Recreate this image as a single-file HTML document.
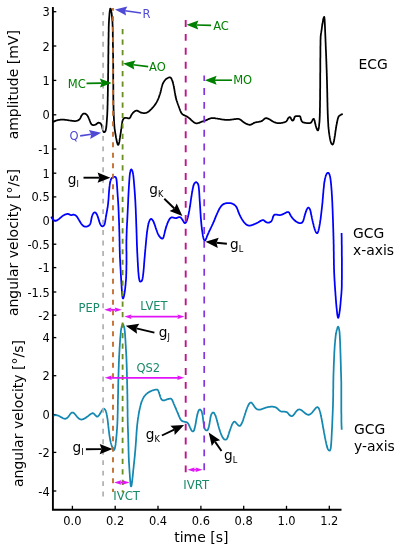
<!DOCTYPE html>
<html><head><meta charset="utf-8"><title>ECG and GCG signals</title>
<style>
html,body{margin:0;padding:0;background:#fff;}
svg{display:block;font-family:"DejaVu Sans","Liberation Sans",sans-serif;}
</style></head><body>
<svg width="401" height="550" viewBox="0 0 401 550">
<rect width="401" height="550" fill="#fff"/>
<path d="M52.9,6.9 V509.7 H341.5" fill="none" stroke="#000" stroke-width="1.9"/>
<line x1="52.9" y1="11.7" x2="56.3" y2="11.7" stroke="#000" stroke-width="1.3"/><text x="49.7" y="16.2" fill="#000" font-size="11.4" text-anchor="end" >3</text>
<line x1="52.9" y1="46" x2="56.3" y2="46" stroke="#000" stroke-width="1.3"/><text x="49.7" y="50.5" fill="#000" font-size="11.4" text-anchor="end" >2</text>
<line x1="52.9" y1="80.4" x2="56.3" y2="80.4" stroke="#000" stroke-width="1.3"/><text x="49.7" y="84.9" fill="#000" font-size="11.4" text-anchor="end" >1</text>
<line x1="52.9" y1="114.8" x2="56.3" y2="114.8" stroke="#000" stroke-width="1.3"/><text x="49.7" y="119.3" fill="#000" font-size="11.4" text-anchor="end" >0</text>
<line x1="52.9" y1="149" x2="56.3" y2="149" stroke="#000" stroke-width="1.3"/><text x="49.7" y="153.5" fill="#000" font-size="11.4" text-anchor="end" >-1</text>
<line x1="52.9" y1="173.2" x2="56.3" y2="173.2" stroke="#000" stroke-width="1.3"/><text x="49.7" y="177.7" fill="#000" font-size="11.4" text-anchor="end" >1</text>
<line x1="52.9" y1="196.9" x2="56.3" y2="196.9" stroke="#000" stroke-width="1.3"/><text x="49.7" y="201.4" fill="#000" font-size="11.4" text-anchor="end" >0.5</text>
<line x1="52.9" y1="220.5" x2="56.3" y2="220.5" stroke="#000" stroke-width="1.3"/><text x="49.7" y="225.0" fill="#000" font-size="11.4" text-anchor="end" >0</text>
<line x1="52.9" y1="244.2" x2="56.3" y2="244.2" stroke="#000" stroke-width="1.3"/><text x="49.7" y="248.7" fill="#000" font-size="11.4" text-anchor="end" >-0.5</text>
<line x1="52.9" y1="267.6" x2="56.3" y2="267.6" stroke="#000" stroke-width="1.3"/><text x="49.7" y="272.1" fill="#000" font-size="11.4" text-anchor="end" >-1</text>
<line x1="52.9" y1="292" x2="56.3" y2="292" stroke="#000" stroke-width="1.3"/><text x="49.7" y="296.5" fill="#000" font-size="11.4" text-anchor="end" >-1.5</text>
<line x1="52.9" y1="315.2" x2="56.3" y2="315.2" stroke="#000" stroke-width="1.3"/><text x="49.7" y="319.7" fill="#000" font-size="11.4" text-anchor="end" >-2</text>
<line x1="52.9" y1="337.6" x2="56.3" y2="337.6" stroke="#000" stroke-width="1.3"/><text x="49.7" y="342.1" fill="#000" font-size="11.4" text-anchor="end" >4</text>
<line x1="52.9" y1="375.7" x2="56.3" y2="375.7" stroke="#000" stroke-width="1.3"/><text x="49.7" y="380.2" fill="#000" font-size="11.4" text-anchor="end" >2</text>
<line x1="52.9" y1="414.6" x2="56.3" y2="414.6" stroke="#000" stroke-width="1.3"/><text x="49.7" y="419.1" fill="#000" font-size="11.4" text-anchor="end" >0</text>
<line x1="52.9" y1="452.4" x2="56.3" y2="452.4" stroke="#000" stroke-width="1.3"/><text x="49.7" y="456.9" fill="#000" font-size="11.4" text-anchor="end" >-2</text>
<line x1="52.9" y1="491.0" x2="56.3" y2="491.0" stroke="#000" stroke-width="1.3"/><text x="49.7" y="495.5" fill="#000" font-size="11.4" text-anchor="end" >-4</text>
<line x1="72.4" y1="509.5" x2="72.4" y2="505.8" stroke="#000" stroke-width="1.3"/><text x="72.4" y="525.3" fill="#000" font-size="11.45" text-anchor="middle" >0.0</text>
<line x1="115.2" y1="509.5" x2="115.2" y2="505.8" stroke="#000" stroke-width="1.3"/><text x="115.2" y="525.3" fill="#000" font-size="11.45" text-anchor="middle" >0.2</text>
<line x1="158.0" y1="509.5" x2="158.0" y2="505.8" stroke="#000" stroke-width="1.3"/><text x="158.0" y="525.3" fill="#000" font-size="11.45" text-anchor="middle" >0.4</text>
<line x1="200.9" y1="509.5" x2="200.9" y2="505.8" stroke="#000" stroke-width="1.3"/><text x="200.9" y="525.3" fill="#000" font-size="11.45" text-anchor="middle" >0.6</text>
<line x1="243.7" y1="509.5" x2="243.7" y2="505.8" stroke="#000" stroke-width="1.3"/><text x="243.7" y="525.3" fill="#000" font-size="11.45" text-anchor="middle" >0.8</text>
<line x1="286.5" y1="509.5" x2="286.5" y2="505.8" stroke="#000" stroke-width="1.3"/><text x="286.5" y="525.3" fill="#000" font-size="11.45" text-anchor="middle" >1.0</text>
<line x1="329.3" y1="509.5" x2="329.3" y2="505.8" stroke="#000" stroke-width="1.3"/><text x="329.3" y="525.3" fill="#000" font-size="11.45" text-anchor="middle" >1.2</text>
<path d="M53.1,121.9 L53.4,121.7 L53.8,121.6 L54.2,121.4 L54.5,121.2 L54.9,121.1 L55.3,120.9 L55.7,120.7 L56.1,120.6 L56.6,120.5 L57.0,120.3 L57.4,120.2 L57.9,120.1 L58.4,120.0 L58.9,119.9 L59.4,119.9 L59.9,119.8 L60.4,119.7 L61.0,119.7 L61.5,119.7 L62.1,119.7 L62.6,119.7 L63.2,119.7 L63.8,119.7 L64.3,119.7 L64.9,119.8 L65.5,119.9 L66.1,119.9 L66.7,120.0 L67.3,120.1 L68.0,120.2 L68.7,120.3 L69.3,120.4 L70.0,120.5 L70.6,120.6 L71.3,120.7 L71.9,120.8 L72.6,120.8 L73.2,120.9 L73.7,121.0 L74.3,121.0 L74.8,121.0 L75.3,121.0 L75.7,121.0 L76.2,120.9 L76.6,120.8 L77.1,120.7 L77.5,120.6 L77.9,120.5 L78.2,120.3 L78.6,120.1 L78.9,119.8 L79.2,119.6 L79.5,119.3 L79.8,118.9 L80.0,118.6 L80.3,118.2 L80.5,117.8 L80.7,117.4 L80.9,117.0 L81.1,116.5 L81.3,116.1 L81.5,115.8 L81.7,115.4 L82.0,115.0 L82.2,114.7 L82.5,114.4 L82.7,114.2 L82.9,114.0 L83.2,113.8 L83.5,113.7 L83.7,113.6 L84.0,113.5 L84.3,113.5 L84.6,113.5 L84.9,113.6 L85.3,113.7 L85.6,113.9 L85.9,114.1 L86.2,114.3 L86.6,114.5 L86.8,114.8 L87.1,115.1 L87.3,115.5 L87.6,115.8 L87.8,116.2 L88.0,116.6 L88.2,117.0 L88.4,117.4 L88.6,117.9 L88.8,118.3 L89.0,118.8 L89.2,119.2 L89.4,119.7 L89.5,120.1 L89.7,120.6 L89.9,121.0 L90.1,121.5 L90.2,121.9 L90.4,122.3 L90.5,122.7 L90.7,123.1 L90.9,123.4 L91.1,123.7 L91.3,124.0 L91.5,124.3 L91.7,124.5 L91.9,124.7 L92.1,124.8 L92.4,124.9 L92.6,125.0 L92.9,125.1 L93.2,125.1 L93.5,125.1 L93.8,125.1 L94.2,125.0 L94.6,124.9 L94.9,124.8 L95.3,124.7 L95.7,124.5 L96.0,124.4 L96.3,124.2 L96.6,124.0 L96.8,123.8 L97.0,123.6 L97.2,123.4 L97.4,123.2 L97.7,123.0 L97.9,122.9 L98.1,122.8 L98.4,122.7 L98.7,122.7 L99.0,122.8 L99.3,122.8 L99.6,122.9 L99.9,123.0 L100.2,123.1 L100.4,123.3 L100.6,123.4 L100.7,123.6 L100.9,123.7 L101.0,123.9 L101.2,124.2 L101.3,124.4 L101.4,124.7 L101.5,125.0 L101.7,125.4 L101.8,125.7 L101.9,126.1 L102.0,126.6 L102.1,127.0 L102.2,127.4 L102.3,127.9 L102.4,128.4 L102.5,128.8 L102.6,129.3 L102.8,129.8 L102.9,130.2 L103.1,130.7 L103.2,131.1 L103.4,131.4 L103.5,131.7 L103.7,132.0 L103.9,132.1 L104.0,132.2 L104.2,132.2 L104.5,132.1 L104.7,132.0 L104.9,131.7 L105.2,131.5 L105.4,131.1 L105.6,130.7 L105.7,130.3 L105.8,129.8 L105.9,129.3 L106.0,128.8 L106.1,128.2 L106.2,127.6 L106.3,127.0 L106.4,126.3 L106.4,125.7 L106.5,125.0 L106.6,124.3 L106.6,123.7 L106.7,123.0 L106.7,122.3 L106.8,121.6 L106.8,121.0 L106.9,120.3 L106.9,119.7 L107.0,119.0 L107.0,118.4 L107.0,117.8 L107.1,117.2 L107.1,116.6 L107.2,116.0 L107.2,115.4 L107.2,114.7 L107.3,114.1 L107.3,113.4 L107.3,112.8 L107.3,112.1 L107.4,111.3 L107.4,110.6 L107.4,109.8 L107.5,108.9 L107.5,108.1 L107.5,107.1 L107.5,106.2 L107.6,105.2 L107.6,104.1 L107.6,103.0 L107.6,101.9 L107.7,100.8 L107.7,99.6 L107.7,98.4 L107.7,97.1 L107.8,95.9 L107.8,94.6 L107.8,93.3 L107.8,92.0 L107.9,90.7 L107.9,89.4 L107.9,88.1 L107.9,86.7 L108.0,85.4 L108.0,84.1 L108.0,82.8 L108.0,81.5 L108.0,80.2 L108.1,78.9 L108.1,77.6 L108.1,76.4 L108.1,75.1 L108.1,73.9 L108.2,72.8 L108.2,71.6 L108.2,70.5 L108.2,69.4 L108.2,68.4 L108.2,67.4 L108.2,66.4 L108.2,65.5 L108.2,64.6 L108.3,63.7 L108.3,62.9 L108.3,62.0 L108.3,61.2 L108.3,60.4 L108.3,59.6 L108.3,58.8 L108.3,58.0 L108.3,57.2 L108.3,56.5 L108.3,55.7 L108.3,54.9 L108.4,54.1 L108.4,53.2 L108.4,52.4 L108.4,51.6 L108.4,50.7 L108.4,49.8 L108.4,48.9 L108.4,47.9 L108.4,46.9 L108.4,45.9 L108.5,44.9 L108.5,43.9 L108.5,42.9 L108.5,41.8 L108.5,40.8 L108.5,39.7 L108.5,38.7 L108.6,37.6 L108.6,36.6 L108.6,35.5 L108.6,34.5 L108.6,33.5 L108.6,32.5 L108.7,31.5 L108.7,30.5 L108.7,29.6 L108.7,28.7 L108.7,27.8 L108.7,26.9 L108.8,26.1 L108.8,25.3 L108.8,24.5 L108.8,23.8 L108.9,23.1 L108.9,22.5 L108.9,21.9 L109.0,21.2 L109.0,20.6 L109.0,20.1 L109.1,19.5 L109.1,18.9 L109.1,18.4 L109.2,17.8 L109.2,17.2 L109.3,16.6 L109.3,16.0 L109.4,15.4 L109.4,14.7 L109.5,14.1 L109.5,13.4 L109.6,12.7 L109.7,12.1 L109.7,11.4 L109.8,10.8 L109.9,10.3 L110.0,9.8 L110.1,9.3 L110.2,9.0 L110.2,8.7 L110.3,8.5 L110.4,8.5 L110.5,8.6 L110.6,8.7 L110.7,9.0 L110.9,9.4 L111.0,9.8 L111.1,10.3 L111.2,10.8 L111.3,11.4 L111.4,11.9 L111.5,12.5 L111.6,13.1 L111.7,13.7 L111.7,14.2 L111.8,14.8 L111.9,15.3 L111.9,15.8 L112.0,16.4 L112.0,16.9 L112.1,17.4 L112.1,17.9 L112.2,18.4 L112.2,18.8 L112.2,19.3 L112.3,19.8 L112.3,20.3 L112.4,20.8 L112.4,21.2 L112.4,21.7 L112.5,22.2 L112.5,22.7 L112.5,23.2 L112.5,23.8 L112.6,24.3 L112.6,24.9 L112.6,25.5 L112.6,26.1 L112.7,26.7 L112.7,27.4 L112.7,28.1 L112.7,28.8 L112.7,29.6 L112.8,30.3 L112.8,31.2 L112.8,32.0 L112.8,32.9 L112.8,33.8 L112.8,34.7 L112.8,35.6 L112.8,36.5 L112.9,37.5 L112.9,38.4 L112.9,39.4 L112.9,40.4 L112.9,41.4 L112.9,42.4 L112.9,43.3 L112.9,44.3 L112.9,45.3 L113.0,46.3 L113.0,47.2 L113.0,48.2 L113.0,49.1 L113.0,50.0 L113.0,50.9 L113.0,51.8 L113.0,52.7 L113.0,53.6 L113.1,54.4 L113.1,55.3 L113.1,56.1 L113.1,57.0 L113.1,57.8 L113.1,58.6 L113.1,59.4 L113.1,60.2 L113.1,61.1 L113.1,61.9 L113.1,62.7 L113.2,63.5 L113.2,64.4 L113.2,65.2 L113.2,66.1 L113.2,67.0 L113.2,67.8 L113.2,68.7 L113.2,69.6 L113.2,70.6 L113.2,71.5 L113.2,72.5 L113.2,73.4 L113.2,74.4 L113.2,75.4 L113.2,76.4 L113.2,77.4 L113.2,78.4 L113.2,79.4 L113.2,80.4 L113.2,81.4 L113.2,82.5 L113.3,83.5 L113.3,84.5 L113.3,85.5 L113.3,86.6 L113.3,87.6 L113.3,88.6 L113.3,89.6 L113.3,90.6 L113.3,91.6 L113.3,92.6 L113.3,93.6 L113.3,94.6 L113.3,95.5 L113.3,96.5 L113.3,97.4 L113.3,98.4 L113.3,99.3 L113.4,100.2 L113.4,101.1 L113.4,102.0 L113.4,102.8 L113.4,103.7 L113.4,104.6 L113.5,105.4 L113.5,106.2 L113.5,107.1 L113.5,107.9 L113.5,108.7 L113.6,109.5 L113.6,110.3 L113.6,111.0 L113.6,111.8 L113.7,112.6 L113.7,113.3 L113.7,114.1 L113.7,114.8 L113.8,115.5 L113.8,116.2 L113.8,116.9 L113.9,117.6 L113.9,118.3 L113.9,119.0 L114.0,119.7 L114.0,120.4 L114.0,121.1 L114.1,121.7 L114.1,122.4 L114.2,123.1 L114.2,123.8 L114.3,124.4 L114.3,125.1 L114.4,125.8 L114.4,126.4 L114.5,127.1 L114.5,127.8 L114.6,128.5 L114.7,129.2 L114.8,129.8 L114.9,130.5 L115.0,131.2 L115.1,131.9 L115.2,132.6 L115.3,133.3 L115.4,134.0 L115.6,134.7 L115.7,135.3 L115.8,136.0 L115.9,136.7 L116.0,137.4 L116.2,138.1 L116.3,138.8 L116.4,139.5 L116.6,140.2 L116.7,140.9 L116.8,141.6 L117.0,142.2 L117.1,142.8 L117.3,143.3 L117.5,143.8 L117.6,144.2 L117.8,144.5 L117.9,144.7 L118.1,144.9 L118.2,144.9 L118.3,144.8 L118.5,144.7 L118.6,144.4 L118.7,144.0 L118.9,143.6 L119.0,143.1 L119.1,142.6 L119.3,142.0 L119.4,141.4 L119.5,140.7 L119.6,140.1 L119.7,139.4 L119.8,138.7 L119.9,138.0 L120.0,137.4 L120.1,136.7 L120.2,136.1 L120.3,135.4 L120.4,134.8 L120.5,134.2 L120.6,133.6 L120.7,133.0 L120.8,132.4 L120.9,131.8 L121.0,131.2 L121.0,130.6 L121.1,130.0 L121.2,129.4 L121.3,128.9 L121.4,128.3 L121.4,127.7 L121.5,127.2 L121.6,126.6 L121.7,126.1 L121.7,125.6 L121.8,125.1 L121.8,124.5 L121.9,124.1 L122.0,123.6 L122.1,123.1 L122.2,122.6 L122.2,122.2 L122.3,121.7 L122.4,121.3 L122.5,120.9 L122.7,120.5 L122.8,120.2 L122.9,119.8 L123.1,119.5 L123.2,119.2 L123.4,118.9 L123.5,118.7 L123.7,118.4 L124.0,118.3 L124.2,118.1 L124.5,118.0 L124.8,117.9 L125.1,117.8 L125.4,117.8 L125.7,117.8 L126.1,117.8 L126.4,117.9 L126.8,118.0 L127.3,118.1 L127.7,118.2 L128.1,118.3 L128.5,118.3 L128.9,118.3 L129.2,118.3 L129.5,118.2 L129.7,118.0 L130.0,117.8 L130.2,117.5 L130.3,117.2 L130.5,116.9 L130.7,116.5 L130.9,116.1 L131.0,115.7 L131.2,115.3 L131.4,115.0 L131.6,114.6 L131.9,114.2 L132.1,113.9 L132.3,113.6 L132.6,113.3 L132.8,113.0 L133.1,112.7 L133.3,112.4 L133.6,112.2 L133.9,111.9 L134.2,111.7 L134.5,111.5 L134.8,111.3 L135.1,111.1 L135.5,111.0 L135.8,110.8 L136.2,110.7 L136.5,110.7 L136.9,110.7 L137.2,110.7 L137.5,110.8 L137.8,110.9 L138.1,111.1 L138.4,111.2 L138.7,111.4 L139.0,111.6 L139.3,111.8 L139.7,112.0 L140.1,112.2 L140.5,112.4 L140.9,112.6 L141.4,112.7 L141.8,112.8 L142.3,112.9 L142.8,113.0 L143.4,113.1 L143.9,113.1 L144.4,113.1 L144.9,113.1 L145.3,113.0 L145.8,112.9 L146.2,112.8 L146.7,112.7 L147.1,112.5 L147.5,112.3 L147.9,112.0 L148.3,111.8 L148.7,111.5 L149.1,111.2 L149.5,110.8 L149.9,110.5 L150.3,110.1 L150.7,109.7 L151.1,109.3 L151.4,109.0 L151.8,108.6 L152.2,108.1 L152.6,107.7 L153.0,107.3 L153.3,106.9 L153.7,106.4 L154.1,106.0 L154.4,105.5 L154.8,105.1 L155.1,104.6 L155.5,104.1 L155.8,103.6 L156.1,103.1 L156.4,102.6 L156.7,102.1 L156.9,101.6 L157.2,101.1 L157.5,100.5 L157.7,100.0 L158.0,99.4 L158.2,98.9 L158.5,98.3 L158.7,97.8 L158.9,97.2 L159.1,96.6 L159.3,96.0 L159.5,95.4 L159.7,94.8 L159.9,94.3 L160.1,93.7 L160.3,93.0 L160.5,92.4 L160.6,91.8 L160.8,91.2 L160.9,90.6 L161.1,90.0 L161.2,89.4 L161.3,88.8 L161.4,88.2 L161.6,87.7 L161.7,87.1 L161.9,86.5 L162.0,86.0 L162.2,85.5 L162.3,85.0 L162.5,84.5 L162.7,84.0 L162.9,83.5 L163.1,83.1 L163.3,82.7 L163.5,82.3 L163.8,81.9 L164.0,81.5 L164.3,81.1 L164.5,80.8 L164.8,80.4 L165.1,80.1 L165.4,79.7 L165.7,79.4 L166.0,79.1 L166.4,78.8 L166.9,78.5 L167.3,78.2 L167.7,78.0 L168.2,77.8 L168.6,77.6 L169.0,77.5 L169.4,77.4 L169.7,77.4 L170.0,77.4 L170.3,77.5 L170.5,77.6 L170.7,77.8 L171.0,78.0 L171.2,78.3 L171.4,78.6 L171.6,78.9 L171.7,79.3 L171.9,79.7 L172.1,80.0 L172.2,80.5 L172.4,80.9 L172.5,81.4 L172.7,81.9 L172.8,82.4 L173.0,82.9 L173.1,83.4 L173.2,84.0 L173.4,84.5 L173.5,85.1 L173.6,85.7 L173.8,86.3 L173.9,87.0 L174.0,87.6 L174.1,88.3 L174.3,89.0 L174.4,89.6 L174.5,90.3 L174.6,91.0 L174.7,91.7 L174.8,92.4 L175.0,93.1 L175.1,93.7 L175.2,94.4 L175.3,95.1 L175.4,95.8 L175.6,96.4 L175.7,97.1 L175.9,97.7 L176.0,98.4 L176.2,99.0 L176.3,99.6 L176.5,100.2 L176.7,100.8 L176.9,101.3 L177.1,101.9 L177.3,102.5 L177.5,103.0 L177.7,103.6 L177.9,104.1 L178.1,104.7 L178.3,105.2 L178.5,105.8 L178.7,106.3 L178.9,106.9 L179.1,107.4 L179.3,108.0 L179.5,108.5 L179.7,109.1 L179.9,109.6 L180.1,110.2 L180.3,110.7 L180.5,111.2 L180.7,111.7 L180.9,112.1 L181.1,112.6 L181.4,113.0 L181.6,113.4 L181.9,113.7 L182.2,114.0 L182.5,114.3 L182.8,114.5 L183.2,114.7 L183.5,114.9 L183.9,115.1 L184.3,115.3 L184.7,115.4 L185.0,115.6 L185.4,115.8 L185.8,115.9 L186.1,116.1 L186.5,116.3 L186.9,116.5 L187.2,116.7 L187.6,117.0 L188.0,117.2 L188.4,117.5 L188.7,117.8 L189.1,118.1 L189.5,118.4 L189.9,118.7 L190.3,119.0 L190.6,119.4 L191.0,119.8 L191.4,120.2 L191.8,120.5 L192.2,120.9 L192.6,121.3 L193.0,121.6 L193.4,121.9 L193.8,122.3 L194.2,122.5 L194.6,122.8 L195.0,123.0 L195.4,123.1 L195.8,123.2 L196.3,123.3 L196.7,123.3 L197.1,123.3 L197.6,123.2 L198.0,123.1 L198.4,123.0 L198.8,122.9 L199.2,122.8 L199.5,122.7 L199.8,122.5 L200.1,122.4 L200.4,122.3 L200.6,122.2 L200.8,122.1 L201.1,121.9 L201.4,121.8 L201.6,121.7 L202.0,121.6 L202.3,121.5 L202.7,121.4 L203.1,121.3 L203.5,121.1 L203.9,121.0 L204.3,120.9 L204.8,120.7 L205.2,120.6 L205.6,120.4 L206.1,120.3 L206.5,120.1 L206.9,119.9 L207.3,119.7 L207.7,119.5 L208.1,119.3 L208.5,119.1 L208.9,118.9 L209.4,118.8 L209.8,118.6 L210.3,118.5 L210.7,118.3 L211.2,118.2 L211.7,118.2 L212.3,118.1 L212.8,118.1 L213.4,118.1 L214.0,118.2 L214.7,118.2 L215.3,118.3 L215.9,118.4 L216.6,118.5 L217.3,118.6 L217.9,118.7 L218.6,118.8 L219.3,118.9 L219.9,119.0 L220.6,119.2 L221.2,119.3 L221.8,119.4 L222.4,119.5 L223.0,119.6 L223.6,119.7 L224.2,119.7 L224.8,119.8 L225.4,119.8 L226.0,119.9 L226.6,119.9 L227.2,119.9 L227.7,119.9 L228.3,119.9 L228.9,119.9 L229.5,119.8 L230.0,119.8 L230.6,119.7 L231.2,119.7 L231.8,119.6 L232.4,119.5 L233.0,119.4 L233.6,119.3 L234.2,119.2 L234.8,119.1 L235.4,119.0 L236.0,119.0 L236.6,118.9 L237.1,118.9 L237.6,118.9 L238.2,118.9 L238.6,119.0 L239.1,119.1 L239.5,119.2 L239.9,119.4 L240.2,119.6 L240.6,119.8 L240.9,120.0 L241.2,120.3 L241.5,120.5 L241.9,120.8 L242.2,121.1 L242.5,121.4 L242.8,121.6 L243.2,121.9 L243.5,122.2 L243.9,122.4 L244.2,122.6 L244.5,122.8 L244.9,123.0 L245.2,123.2 L245.6,123.4 L245.9,123.6 L246.3,123.8 L246.7,123.9 L247.0,124.1 L247.4,124.2 L247.8,124.4 L248.2,124.5 L248.6,124.6 L249.0,124.7 L249.4,124.8 L249.8,124.8 L250.2,124.8 L250.6,124.7 L251.0,124.6 L251.3,124.5 L251.7,124.3 L252.0,124.2 L252.3,123.9 L252.7,123.7 L253.0,123.5 L253.4,123.3 L253.7,123.1 L254.1,122.9 L254.5,122.7 L255.0,122.5 L255.5,122.4 L256.0,122.3 L256.5,122.2 L257.1,122.1 L257.7,122.0 L258.3,121.9 L258.8,121.8 L259.4,121.7 L260.0,121.6 L260.5,121.5 L261.0,121.3 L261.5,121.2 L261.9,120.9 L262.3,120.7 L262.7,120.4 L263.0,120.1 L263.4,119.8 L263.7,119.5 L264.0,119.2 L264.3,118.9 L264.6,118.7 L264.9,118.5 L265.3,118.3 L265.7,118.2 L266.1,118.2 L266.5,118.2 L266.9,118.3 L267.4,118.4 L267.9,118.6 L268.4,118.8 L268.9,119.1 L269.4,119.3 L269.9,119.6 L270.4,119.9 L270.9,120.2 L271.4,120.6 L272.0,120.9 L272.5,121.2 L272.9,121.5 L273.4,121.7 L273.9,122.0 L274.4,122.2 L274.9,122.4 L275.4,122.6 L275.9,122.7 L276.4,122.9 L276.9,123.0 L277.4,123.1 L277.9,123.1 L278.4,123.2 L278.9,123.2 L279.4,123.2 L279.9,123.2 L280.5,123.1 L281.1,123.0 L281.7,122.9 L282.3,122.8 L282.9,122.7 L283.5,122.5 L284.1,122.3 L284.7,122.1 L285.2,121.9 L285.6,121.7 L286.1,121.4 L286.4,121.2 L286.7,120.9 L286.9,120.6 L287.1,120.3 L287.3,120.0 L287.4,119.7 L287.6,119.4 L287.7,119.1 L287.8,118.8 L288.0,118.5 L288.2,118.2 L288.4,117.9 L288.7,117.7 L288.9,117.5 L289.2,117.3 L289.5,117.2 L289.7,117.1 L290.0,117.1 L290.2,117.3 L290.4,117.5 L290.6,117.8 L290.8,118.1 L290.9,118.4 L291.1,118.8 L291.3,119.2 L291.5,119.6 L291.7,119.9 L291.9,120.2 L292.1,120.4 L292.3,120.5 L292.6,120.6 L292.9,120.5 L293.1,120.4 L293.3,120.3 L293.5,120.0 L293.7,119.7 L293.8,119.4 L294.0,119.0 L294.1,118.6 L294.2,118.2 L294.3,117.8 L294.5,117.4 L294.6,117.1 L294.8,116.8 L295.0,116.6 L295.3,116.4 L295.6,116.3 L295.9,116.2 L296.2,116.2 L296.6,116.2 L296.9,116.2 L297.3,116.2 L297.6,116.2 L297.9,116.2 L298.3,116.1 L298.6,116.1 L299.0,116.1 L299.3,116.1 L299.6,116.1 L299.8,116.2 L300.0,116.3 L300.2,116.5 L300.3,116.8 L300.4,117.1 L300.5,117.4 L300.6,117.8 L300.7,118.2 L300.8,118.6 L300.9,119.0 L301.0,119.4 L301.1,119.7 L301.3,120.1 L301.4,120.5 L301.6,120.8 L301.7,121.1 L301.9,121.3 L302.1,121.6 L302.3,121.8 L302.5,122.0 L302.7,122.2 L303.0,122.3 L303.3,122.4 L303.6,122.5 L303.9,122.6 L304.2,122.7 L304.5,122.7 L304.9,122.8 L305.3,122.9 L305.7,122.9 L306.2,123.0 L306.7,123.1 L307.2,123.1 L307.8,123.2 L308.3,123.2 L308.8,123.2 L309.3,123.2 L309.8,123.1 L310.2,123.0 L310.6,122.9 L310.8,122.7 L311.1,122.5 L311.3,122.2 L311.5,122.0 L311.7,121.7 L311.8,121.3 L312.0,121.0 L312.2,120.7 L312.4,120.3 L312.5,120.0 L312.7,119.7 L312.9,119.4 L313.1,119.2 L313.3,119.0 L313.5,118.8 L313.7,118.8 L313.8,118.8 L314.0,119.0 L314.1,119.2 L314.2,119.5 L314.3,119.8 L314.5,120.2 L314.6,120.6 L314.7,121.1 L314.8,121.6 L314.9,122.1 L315.0,122.6 L315.1,123.1 L315.2,123.6 L315.4,124.1 L315.5,124.6 L315.6,125.0 L315.7,125.5 L315.8,125.9 L315.9,126.4 L316.1,126.8 L316.2,127.2 L316.3,127.7 L316.5,128.1 L316.6,128.5 L316.8,128.9 L317.0,129.3 L317.1,129.6 L317.3,129.9 L317.5,130.2 L317.7,130.3 L317.8,130.4 L318.0,130.4 L318.1,130.3 L318.2,130.1 L318.3,129.8 L318.4,129.4 L318.6,129.0 L318.7,128.6 L318.8,128.0 L318.8,127.5 L318.9,126.9 L319.0,126.4 L319.1,125.8 L319.1,125.2 L319.2,124.6 L319.2,124.0 L319.3,123.4 L319.4,122.7 L319.4,122.1 L319.5,121.5 L319.5,120.8 L319.6,120.2 L319.6,119.5 L319.6,118.9 L319.7,118.2 L319.7,117.5 L319.7,116.8 L319.8,116.0 L319.8,115.3 L319.8,114.6 L319.8,113.8 L319.9,113.0 L319.9,112.2 L319.9,111.4 L319.9,110.6 L319.9,109.8 L319.9,109.0 L319.9,108.1 L320.0,107.3 L320.0,106.4 L320.0,105.5 L320.0,104.6 L320.0,103.7 L320.0,102.8 L320.0,101.9 L320.0,101.0 L320.1,100.0 L320.1,99.1 L320.1,98.1 L320.1,97.2 L320.1,96.2 L320.1,95.3 L320.1,94.3 L320.1,93.3 L320.1,92.3 L320.1,91.3 L320.1,90.3 L320.1,89.3 L320.2,88.3 L320.2,87.2 L320.2,86.2 L320.2,85.2 L320.2,84.1 L320.2,83.1 L320.2,82.0 L320.2,81.0 L320.2,79.9 L320.2,78.8 L320.2,77.7 L320.2,76.6 L320.2,75.5 L320.2,74.4 L320.2,73.3 L320.3,72.2 L320.3,71.1 L320.3,70.0 L320.3,68.8 L320.3,67.7 L320.3,66.5 L320.3,65.4 L320.3,64.2 L320.3,63.1 L320.3,61.9 L320.3,60.7 L320.3,59.5 L320.3,58.4 L320.4,57.2 L320.4,56.1 L320.4,54.9 L320.4,53.8 L320.4,52.7 L320.4,51.5 L320.4,50.4 L320.4,49.4 L320.4,48.3 L320.4,47.3 L320.4,46.2 L320.5,45.3 L320.5,44.3 L320.5,43.4 L320.5,42.5 L320.5,41.6 L320.5,40.7 L320.5,39.9 L320.6,39.2 L320.6,38.5 L320.6,37.8 L320.6,37.1 L320.7,36.5 L320.7,36.0 L320.8,35.4 L320.8,34.9 L320.9,34.4 L321.0,33.9 L321.0,33.4 L321.1,32.9 L321.2,32.3 L321.3,31.8 L321.4,31.2 L321.5,30.6 L321.6,29.9 L321.7,29.2 L321.8,28.5 L321.9,27.7 L322.0,26.8 L322.1,25.9 L322.3,25.0 L322.4,24.2 L322.6,23.3 L322.7,22.4 L322.9,21.5 L323.0,20.7 L323.2,20.0 L323.3,19.3 L323.5,18.6 L323.6,18.1 L323.8,17.6 L323.9,17.2 L324.0,17.0 L324.1,16.8 L324.2,16.8 L324.2,16.9 L324.3,17.2 L324.4,17.5 L324.4,18.0 L324.5,18.6 L324.6,19.3 L324.6,20.0 L324.7,20.9 L324.7,21.8 L324.8,22.7 L324.8,23.8 L324.9,24.8 L324.9,26.0 L325.0,27.1 L325.0,28.3 L325.1,29.5 L325.1,30.7 L325.2,32.0 L325.2,33.2 L325.3,34.4 L325.3,35.6 L325.4,36.8 L325.4,37.9 L325.5,39.0 L325.5,40.1 L325.5,41.1 L325.6,42.1 L325.6,43.1 L325.7,44.1 L325.7,45.0 L325.7,45.9 L325.8,46.8 L325.8,47.7 L325.8,48.6 L325.9,49.5 L325.9,50.3 L326.0,51.2 L326.0,52.0 L326.0,52.9 L326.1,53.7 L326.1,54.6 L326.1,55.4 L326.2,56.3 L326.2,57.2 L326.2,58.1 L326.3,59.0 L326.3,60.0 L326.3,60.9 L326.4,61.9 L326.4,62.9 L326.4,63.9 L326.5,65.0 L326.5,66.0 L326.5,67.1 L326.6,68.2 L326.6,69.3 L326.7,70.4 L326.7,71.5 L326.7,72.6 L326.8,73.7 L326.8,74.8 L326.8,75.9 L326.9,77.0 L326.9,78.2 L326.9,79.3 L327.0,80.4 L327.0,81.5 L327.0,82.6 L327.0,83.7 L327.1,84.7 L327.1,85.8 L327.1,86.8 L327.1,87.9 L327.2,88.9 L327.2,89.9 L327.2,90.9 L327.2,91.8 L327.3,92.8 L327.3,93.7 L327.3,94.6 L327.3,95.5 L327.3,96.4 L327.3,97.2 L327.4,98.1 L327.4,98.9 L327.4,99.8 L327.4,100.6 L327.4,101.4 L327.4,102.2 L327.5,103.0 L327.5,103.8 L327.5,104.6 L327.5,105.4 L327.5,106.2 L327.5,107.0 L327.6,107.7 L327.6,108.5 L327.6,109.3 L327.6,110.1 L327.7,110.9 L327.7,111.7 L327.7,112.5 L327.7,113.3 L327.8,114.1 L327.8,114.9 L327.8,115.7 L327.9,116.5 L327.9,117.3 L327.9,118.1 L328.0,118.8 L328.0,119.6 L328.0,120.4 L328.1,121.2 L328.1,122.0 L328.2,122.8 L328.2,123.5 L328.3,124.3 L328.3,125.1 L328.3,125.8 L328.4,126.6 L328.5,127.3 L328.5,128.1 L328.6,128.8 L328.7,129.5 L328.8,130.3 L328.8,131.0 L328.9,131.7 L329.0,132.4 L329.1,133.1 L329.2,133.7 L329.3,134.4 L329.4,135.0 L329.5,135.7 L329.6,136.3 L329.7,136.9 L329.8,137.5 L329.9,138.0 L330.0,138.6 L330.1,139.1 L330.2,139.7 L330.3,140.2 L330.4,140.6 L330.5,141.1 L330.7,141.5 L330.8,142.0 L330.9,142.4 L331.1,142.7 L331.2,143.1 L331.4,143.4 L331.5,143.7 L331.7,144.0 L331.9,144.2 L332.1,144.3 L332.3,144.5 L332.5,144.5 L332.7,144.5 L332.8,144.4 L333.0,144.2 L333.1,144.0 L333.2,143.7 L333.4,143.4 L333.5,143.0 L333.6,142.6 L333.7,142.1 L333.8,141.6 L334.0,141.1 L334.1,140.6 L334.2,140.0 L334.3,139.3 L334.4,138.7 L334.5,138.0 L334.6,137.3 L334.7,136.6 L334.9,135.9 L335.0,135.1 L335.1,134.3 L335.2,133.6 L335.3,132.8 L335.4,132.0 L335.5,131.1 L335.7,130.3 L335.8,129.5 L335.9,128.6 L336.1,127.8 L336.2,127.0 L336.3,126.1 L336.5,125.3 L336.6,124.5 L336.8,123.8 L336.9,123.0 L337.1,122.3 L337.2,121.6 L337.3,120.9 L337.5,120.3 L337.6,119.7 L337.7,119.1 L337.9,118.6 L338.0,118.2 L338.1,117.8 L338.3,117.5 L338.4,117.2 L338.5,116.9 L338.5,116.7 L338.6,116.5 L338.8,116.4 L338.9,116.2 L339.1,116.0 L339.3,115.8 L339.6,115.6 L339.9,115.4 L340.2,115.2 L340.6,115.0 L340.9,114.8 L341.2,114.6 L341.4,114.5 L341.7,114.4 L341.9,114.2 L342.1,114.1 L342.3,114.1 L342.5,114.0 L342.7,113.9" fill="none" stroke="#000" stroke-width="1.75" stroke-linejoin="round"/>
<path d="M51.2,216.6 L51.3,216.9 L51.5,217.3 L51.7,217.6 L51.8,217.9 L52.0,218.2 L52.2,218.5 L52.4,218.8 L52.6,219.1 L52.8,219.4 L53.0,219.6 L53.2,219.8 L53.5,220.0 L53.7,220.2 L54.0,220.4 L54.2,220.5 L54.5,220.7 L54.8,220.7 L55.1,220.8 L55.4,220.8 L55.7,220.8 L56.0,220.7 L56.3,220.7 L56.6,220.5 L56.9,220.4 L57.2,220.2 L57.5,220.0 L57.9,219.8 L58.2,219.6 L58.5,219.4 L58.9,219.1 L59.2,218.8 L59.6,218.5 L59.9,218.2 L60.3,217.9 L60.6,217.6 L61.0,217.3 L61.3,217.0 L61.7,216.7 L62.0,216.4 L62.4,216.1 L62.7,215.9 L63.1,215.6 L63.4,215.4 L63.8,215.2 L64.2,215.0 L64.5,214.8 L64.9,214.7 L65.2,214.5 L65.6,214.4 L65.9,214.3 L66.2,214.2 L66.6,214.1 L66.9,214.0 L67.1,214.0 L67.4,213.9 L67.7,213.9 L68.0,213.9 L68.2,214.0 L68.5,214.0 L68.8,214.1 L69.0,214.2 L69.3,214.4 L69.6,214.5 L69.9,214.7 L70.1,214.8 L70.4,214.9 L70.7,215.0 L71.0,215.1 L71.2,215.1 L71.5,215.1 L71.8,215.0 L72.0,215.0 L72.3,214.9 L72.6,214.8 L72.9,214.7 L73.2,214.7 L73.5,214.7 L73.8,214.7 L74.1,214.8 L74.4,214.9 L74.7,215.0 L75.1,215.1 L75.4,215.3 L75.7,215.5 L76.0,215.7 L76.3,216.0 L76.5,216.2 L76.8,216.5 L77.0,216.9 L77.3,217.2 L77.5,217.6 L77.8,217.9 L78.0,218.3 L78.2,218.7 L78.5,219.1 L78.7,219.5 L78.9,219.9 L79.2,220.3 L79.4,220.7 L79.6,221.1 L79.9,221.5 L80.1,221.9 L80.3,222.3 L80.6,222.7 L80.8,223.1 L81.0,223.4 L81.3,223.8 L81.5,224.1 L81.8,224.4 L82.1,224.7 L82.3,225.0 L82.6,225.3 L82.9,225.6 L83.2,225.8 L83.5,226.0 L83.8,226.2 L84.1,226.4 L84.4,226.5 L84.7,226.6 L85.0,226.7 L85.4,226.7 L85.7,226.7 L86.1,226.7 L86.5,226.6 L86.9,226.5 L87.3,226.4 L87.6,226.3 L88.0,226.1 L88.3,226.0 L88.6,225.8 L88.9,225.6 L89.1,225.4 L89.3,225.2 L89.5,225.0 L89.7,224.8 L89.9,224.5 L90.0,224.3 L90.2,224.0 L90.3,223.7 L90.4,223.3 L90.6,222.9 L90.7,222.5 L90.8,222.0 L90.9,221.6 L91.0,221.1 L91.1,220.6 L91.2,220.1 L91.3,219.5 L91.4,219.0 L91.5,218.5 L91.6,218.0 L91.7,217.5 L91.8,217.0 L91.9,216.5 L92.1,216.0 L92.2,215.6 L92.4,215.2 L92.5,214.8 L92.7,214.4 L92.9,214.1 L93.0,213.8 L93.2,213.5 L93.4,213.2 L93.6,213.0 L93.8,212.8 L94.0,212.7 L94.2,212.6 L94.4,212.5 L94.7,212.4 L94.9,212.4 L95.1,212.5 L95.4,212.6 L95.6,212.7 L95.8,212.9 L96.0,213.1 L96.2,213.4 L96.4,213.7 L96.6,214.0 L96.8,214.3 L97.0,214.7 L97.2,215.1 L97.4,215.6 L97.6,216.0 L97.7,216.5 L97.9,216.9 L98.0,217.4 L98.2,217.9 L98.3,218.4 L98.5,218.9 L98.6,219.4 L98.8,219.9 L98.9,220.4 L99.1,220.9 L99.2,221.4 L99.4,221.8 L99.5,222.3 L99.7,222.7 L99.8,223.1 L100.0,223.5 L100.2,223.8 L100.3,224.2 L100.5,224.5 L100.7,224.8 L100.8,225.1 L101.0,225.4 L101.2,225.6 L101.4,225.8 L101.6,226.0 L101.8,226.1 L102.0,226.2 L102.2,226.3 L102.5,226.3 L102.7,226.3 L102.9,226.2 L103.1,226.0 L103.4,225.9 L103.6,225.6 L103.9,225.4 L104.1,225.1 L104.3,224.8 L104.5,224.4 L104.6,224.1 L104.7,223.7 L104.8,223.3 L104.9,222.9 L105.0,222.5 L105.1,222.0 L105.2,221.6 L105.3,221.1 L105.3,220.6 L105.4,220.1 L105.5,219.6 L105.6,219.1 L105.7,218.5 L105.7,217.9 L105.8,217.4 L105.9,216.7 L106.1,216.1 L106.2,215.5 L106.3,214.8 L106.4,214.1 L106.5,213.5 L106.7,212.8 L106.8,212.0 L106.9,211.3 L107.1,210.6 L107.2,209.8 L107.3,209.1 L107.4,208.3 L107.6,207.6 L107.7,206.8 L107.8,206.0 L107.9,205.2 L108.0,204.5 L108.1,203.7 L108.2,202.9 L108.2,202.1 L108.3,201.3 L108.4,200.5 L108.5,199.8 L108.5,199.0 L108.6,198.2 L108.6,197.5 L108.7,196.7 L108.7,195.9 L108.8,195.2 L108.8,194.5 L108.9,193.7 L108.9,193.0 L109.0,192.3 L109.0,191.6 L109.1,190.9 L109.1,190.2 L109.2,189.6 L109.3,188.9 L109.3,188.3 L109.4,187.6 L109.5,187.0 L109.5,186.4 L109.6,185.9 L109.7,185.3 L109.7,184.8 L109.8,184.2 L109.9,183.7 L110.0,183.2 L110.1,182.8 L110.2,182.3 L110.2,181.9 L110.3,181.4 L110.4,181.0 L110.6,180.6 L110.7,180.3 L110.8,179.9 L110.9,179.6 L111.1,179.3 L111.2,178.9 L111.4,178.7 L111.6,178.4 L111.8,178.1 L112.0,177.9 L112.2,177.7 L112.5,177.5 L112.7,177.3 L113.1,177.2 L113.4,177.1 L113.8,177.0 L114.1,176.9 L114.4,176.9 L114.7,176.9 L115.0,176.9 L115.2,177.0 L115.4,177.1 L115.6,177.3 L115.8,177.4 L115.9,177.7 L116.1,178.0 L116.2,178.3 L116.3,178.7 L116.4,179.1 L116.5,179.5 L116.5,180.0 L116.6,180.5 L116.7,181.0 L116.7,181.6 L116.8,182.2 L116.8,182.8 L116.9,183.5 L116.9,184.2 L117.0,184.9 L117.0,185.6 L117.1,186.3 L117.1,187.0 L117.2,187.8 L117.2,188.5 L117.3,189.3 L117.3,190.1 L117.4,190.8 L117.4,191.6 L117.5,192.4 L117.5,193.1 L117.6,193.9 L117.6,194.7 L117.7,195.5 L117.7,196.3 L117.8,197.0 L117.9,197.8 L117.9,198.6 L118.0,199.4 L118.0,200.3 L118.1,201.1 L118.1,201.9 L118.2,202.7 L118.2,203.6 L118.3,204.4 L118.3,205.3 L118.4,206.1 L118.4,207.0 L118.5,207.9 L118.5,208.8 L118.5,209.7 L118.6,210.6 L118.6,211.5 L118.7,212.5 L118.7,213.4 L118.7,214.3 L118.8,215.3 L118.8,216.2 L118.8,217.2 L118.9,218.2 L118.9,219.1 L119.0,220.1 L119.0,221.0 L119.0,222.0 L119.1,223.0 L119.1,223.9 L119.1,224.9 L119.2,225.8 L119.2,226.8 L119.2,227.7 L119.2,228.7 L119.3,229.6 L119.3,230.5 L119.3,231.4 L119.4,232.3 L119.4,233.2 L119.4,234.1 L119.4,235.0 L119.4,235.9 L119.5,236.7 L119.5,237.6 L119.5,238.4 L119.5,239.2 L119.5,240.0 L119.5,240.8 L119.6,241.6 L119.6,242.5 L119.6,243.2 L119.6,244.0 L119.6,244.8 L119.6,245.6 L119.6,246.4 L119.7,247.2 L119.7,248.0 L119.7,248.8 L119.7,249.6 L119.7,250.4 L119.8,251.2 L119.8,252.0 L119.8,252.8 L119.8,253.6 L119.9,254.5 L119.9,255.3 L119.9,256.1 L119.9,256.9 L120.0,257.8 L120.0,258.6 L120.1,259.5 L120.1,260.3 L120.1,261.1 L120.2,262.0 L120.2,262.8 L120.3,263.6 L120.3,264.5 L120.3,265.3 L120.4,266.1 L120.4,266.9 L120.5,267.7 L120.5,268.5 L120.6,269.2 L120.6,270.0 L120.7,270.8 L120.7,271.5 L120.7,272.2 L120.8,273.0 L120.8,273.7 L120.9,274.4 L120.9,275.0 L120.9,275.7 L121.0,276.4 L121.0,277.1 L121.1,277.8 L121.1,278.5 L121.1,279.2 L121.2,279.9 L121.2,280.6 L121.3,281.3 L121.3,282.0 L121.4,282.8 L121.4,283.5 L121.5,284.3 L121.5,285.1 L121.6,285.9 L121.6,286.8 L121.7,287.6 L121.7,288.5 L121.8,289.4 L121.9,290.3 L121.9,291.2 L122.0,292.0 L122.1,292.9 L122.1,293.7 L122.2,294.4 L122.3,295.2 L122.4,295.8 L122.4,296.5 L122.5,297.0 L122.6,297.5 L122.7,297.9 L122.8,298.2 L122.9,298.4 L123.0,298.5 L123.1,298.5 L123.2,298.4 L123.3,298.1 L123.4,297.8 L123.6,297.4 L123.7,297.0 L123.9,296.4 L124.0,295.8 L124.2,295.1 L124.3,294.4 L124.4,293.7 L124.6,292.9 L124.7,292.2 L124.8,291.4 L124.9,290.6 L125.0,289.8 L125.1,289.0 L125.2,288.2 L125.3,287.4 L125.3,286.7 L125.4,286.0 L125.5,285.3 L125.6,284.6 L125.6,283.9 L125.7,283.2 L125.7,282.5 L125.8,281.8 L125.9,281.2 L125.9,280.5 L126.0,279.8 L126.0,279.2 L126.1,278.5 L126.1,277.8 L126.1,277.2 L126.2,276.5 L126.2,275.8 L126.2,275.1 L126.2,274.4 L126.3,273.7 L126.3,273.0 L126.3,272.3 L126.3,271.5 L126.3,270.8 L126.4,270.1 L126.4,269.3 L126.4,268.6 L126.4,267.8 L126.4,267.0 L126.4,266.3 L126.4,265.5 L126.5,264.7 L126.5,263.9 L126.5,263.1 L126.5,262.4 L126.5,261.6 L126.5,260.8 L126.5,260.0 L126.5,259.2 L126.5,258.4 L126.5,257.6 L126.5,256.8 L126.5,256.1 L126.5,255.3 L126.5,254.5 L126.5,253.7 L126.5,253.0 L126.5,252.2 L126.5,251.5 L126.4,250.7 L126.4,250.0 L126.4,249.3 L126.4,248.5 L126.4,247.8 L126.4,247.2 L126.4,246.5 L126.4,245.8 L126.4,245.2 L126.4,244.5 L126.4,243.9 L126.4,243.3 L126.4,242.7 L126.4,242.2 L126.4,241.6 L126.4,241.0 L126.4,240.5 L126.4,239.9 L126.5,239.4 L126.5,238.8 L126.5,238.2 L126.5,237.7 L126.5,237.1 L126.5,236.5 L126.6,235.8 L126.6,235.2 L126.6,234.5 L126.6,233.8 L126.6,233.1 L126.7,232.3 L126.7,231.6 L126.7,230.8 L126.7,229.9 L126.8,229.1 L126.8,228.2 L126.9,227.4 L126.9,226.5 L127.0,225.5 L127.0,224.6 L127.0,223.6 L127.1,222.7 L127.2,221.7 L127.2,220.7 L127.3,219.7 L127.3,218.7 L127.4,217.7 L127.4,216.7 L127.5,215.6 L127.5,214.6 L127.6,213.6 L127.6,212.5 L127.7,211.5 L127.7,210.4 L127.8,209.4 L127.8,208.4 L127.9,207.3 L127.9,206.3 L128.0,205.3 L128.0,204.2 L128.1,203.2 L128.1,202.2 L128.2,201.2 L128.2,200.2 L128.2,199.2 L128.3,198.2 L128.3,197.2 L128.4,196.3 L128.4,195.3 L128.5,194.4 L128.5,193.4 L128.6,192.5 L128.6,191.6 L128.7,190.7 L128.7,189.8 L128.8,188.9 L128.8,188.0 L128.9,187.2 L128.9,186.4 L129.0,185.6 L129.0,184.8 L129.1,184.0 L129.1,183.2 L129.2,182.5 L129.2,181.7 L129.3,181.0 L129.3,180.3 L129.4,179.6 L129.4,179.0 L129.5,178.3 L129.5,177.7 L129.6,177.1 L129.6,176.5 L129.7,175.9 L129.7,175.3 L129.8,174.7 L129.9,174.2 L129.9,173.6 L130.0,173.1 L130.1,172.6 L130.2,172.1 L130.3,171.6 L130.4,171.2 L130.5,170.7 L130.6,170.4 L130.8,170.0 L130.9,169.8 L131.0,169.6 L131.2,169.4 L131.3,169.4 L131.5,169.4 L131.6,169.6 L131.8,169.8 L131.9,170.0 L132.1,170.4 L132.3,170.7 L132.4,171.2 L132.6,171.6 L132.7,172.1 L132.8,172.6 L132.9,173.1 L133.0,173.6 L133.1,174.2 L133.2,174.7 L133.3,175.3 L133.3,175.9 L133.4,176.4 L133.5,177.0 L133.5,177.7 L133.6,178.3 L133.7,178.9 L133.7,179.6 L133.8,180.3 L133.9,181.0 L133.9,181.7 L134.0,182.4 L134.0,183.2 L134.1,184.0 L134.2,184.7 L134.2,185.5 L134.3,186.4 L134.4,187.2 L134.4,188.1 L134.5,188.9 L134.6,189.8 L134.6,190.7 L134.7,191.6 L134.8,192.5 L134.8,193.4 L134.9,194.4 L135.0,195.3 L135.0,196.3 L135.1,197.3 L135.1,198.2 L135.2,199.2 L135.3,200.2 L135.3,201.2 L135.4,202.2 L135.4,203.2 L135.5,204.2 L135.5,205.3 L135.6,206.3 L135.6,207.3 L135.7,208.3 L135.7,209.4 L135.8,210.4 L135.8,211.4 L135.8,212.4 L135.9,213.5 L135.9,214.5 L136.0,215.5 L136.0,216.5 L136.0,217.5 L136.1,218.5 L136.1,219.5 L136.1,220.5 L136.2,221.5 L136.2,222.4 L136.2,223.4 L136.3,224.3 L136.3,225.3 L136.3,226.2 L136.4,227.1 L136.4,228.0 L136.4,228.9 L136.5,229.7 L136.5,230.6 L136.5,231.4 L136.5,232.2 L136.6,233.0 L136.6,233.8 L136.6,234.5 L136.6,235.3 L136.7,236.0 L136.7,236.7 L136.7,237.4 L136.7,238.0 L136.7,238.7 L136.8,239.3 L136.8,240.0 L136.8,240.6 L136.8,241.2 L136.8,241.9 L136.9,242.5 L136.9,243.1 L136.9,243.8 L136.9,244.4 L136.9,245.1 L137.0,245.7 L137.0,246.4 L137.0,247.1 L137.1,247.8 L137.1,248.5 L137.1,249.2 L137.1,249.9 L137.2,250.7 L137.2,251.4 L137.2,252.2 L137.3,252.9 L137.3,253.7 L137.4,254.5 L137.4,255.3 L137.4,256.0 L137.5,256.8 L137.5,257.6 L137.6,258.4 L137.6,259.2 L137.6,259.9 L137.7,260.7 L137.7,261.5 L137.8,262.3 L137.8,263.0 L137.9,263.8 L137.9,264.6 L137.9,265.3 L138.0,266.0 L138.0,266.8 L138.1,267.5 L138.1,268.2 L138.2,268.9 L138.2,269.7 L138.2,270.4 L138.3,271.1 L138.3,271.7 L138.4,272.4 L138.5,273.1 L138.5,273.7 L138.6,274.4 L138.6,275.0 L138.7,275.7 L138.8,276.3 L138.8,276.9 L138.9,277.5 L139.0,278.1 L139.1,278.6 L139.2,279.1 L139.3,279.6 L139.4,280.1 L139.5,280.5 L139.6,280.8 L139.7,281.1 L139.9,281.4 L140.0,281.5 L140.2,281.6 L140.4,281.6 L140.6,281.6 L140.9,281.5 L141.2,281.3 L141.4,281.1 L141.7,280.9 L141.9,280.6 L142.0,280.3 L142.2,280.0 L142.3,279.6 L142.4,279.2 L142.5,278.8 L142.6,278.4 L142.7,277.9 L142.7,277.5 L142.8,277.0 L142.9,276.5 L143.0,275.9 L143.0,275.4 L143.1,274.8 L143.2,274.2 L143.3,273.6 L143.3,272.9 L143.4,272.3 L143.5,271.6 L143.5,270.9 L143.6,270.2 L143.7,269.5 L143.7,268.8 L143.8,268.0 L143.9,267.3 L143.9,266.5 L144.0,265.8 L144.0,265.0 L144.1,264.3 L144.1,263.5 L144.2,262.7 L144.3,262.0 L144.3,261.2 L144.4,260.5 L144.4,259.7 L144.5,259.0 L144.6,258.3 L144.6,257.6 L144.7,256.9 L144.8,256.2 L144.8,255.5 L144.9,254.8 L144.9,254.1 L145.0,253.4 L145.0,252.7 L145.1,252.1 L145.2,251.4 L145.2,250.7 L145.3,250.0 L145.3,249.3 L145.4,248.7 L145.5,248.0 L145.5,247.3 L145.6,246.6 L145.7,245.9 L145.7,245.2 L145.8,244.5 L145.9,243.8 L145.9,243.0 L146.0,242.3 L146.1,241.6 L146.1,240.8 L146.2,240.1 L146.3,239.4 L146.3,238.6 L146.4,237.9 L146.5,237.2 L146.6,236.5 L146.6,235.7 L146.7,235.0 L146.8,234.3 L146.9,233.6 L146.9,232.9 L147.0,232.2 L147.1,231.6 L147.2,230.9 L147.3,230.3 L147.4,229.6 L147.5,229.0 L147.6,228.4 L147.7,227.8 L147.8,227.2 L147.9,226.6 L148.0,226.1 L148.1,225.5 L148.2,225.0 L148.3,224.5 L148.4,223.9 L148.6,223.4 L148.7,222.9 L148.8,222.5 L149.0,222.0 L149.1,221.5 L149.3,221.1 L149.5,220.6 L149.7,220.3 L149.9,219.9 L150.2,219.6 L150.4,219.3 L150.6,219.1 L150.9,219.0 L151.1,218.9 L151.3,218.9 L151.6,219.0 L151.8,219.2 L152.0,219.4 L152.3,219.7 L152.5,220.0 L152.8,220.4 L153.0,220.8 L153.3,221.3 L153.5,221.8 L153.8,222.3 L154.0,222.9 L154.2,223.5 L154.5,224.1 L154.7,224.7 L154.9,225.3 L155.1,225.9 L155.3,226.5 L155.5,227.1 L155.7,227.8 L155.9,228.4 L156.1,229.0 L156.3,229.6 L156.6,230.2 L156.8,230.8 L157.0,231.4 L157.2,232.0 L157.4,232.5 L157.6,233.1 L157.8,233.6 L158.1,234.1 L158.3,234.5 L158.5,235.0 L158.8,235.4 L159.0,235.8 L159.3,236.1 L159.6,236.5 L159.8,236.8 L160.1,237.1 L160.3,237.4 L160.6,237.6 L160.8,237.9 L161.1,238.1 L161.3,238.2 L161.6,238.4 L161.9,238.5 L162.1,238.6 L162.4,238.6 L162.6,238.5 L162.8,238.4 L163.0,238.2 L163.2,238.0 L163.3,237.6 L163.5,237.3 L163.6,236.9 L163.7,236.4 L163.9,235.9 L164.0,235.4 L164.1,234.9 L164.2,234.3 L164.4,233.7 L164.5,233.2 L164.7,232.6 L164.8,232.0 L164.9,231.5 L165.1,230.9 L165.2,230.4 L165.4,229.9 L165.5,229.4 L165.7,228.8 L165.8,228.3 L165.9,227.9 L166.1,227.4 L166.2,226.9 L166.4,226.4 L166.5,225.9 L166.7,225.5 L166.9,225.0 L167.0,224.6 L167.2,224.1 L167.3,223.7 L167.5,223.2 L167.7,222.8 L167.9,222.4 L168.0,221.9 L168.2,221.5 L168.4,221.1 L168.6,220.7 L168.8,220.4 L169.0,220.0 L169.2,219.6 L169.4,219.3 L169.6,219.0 L169.9,218.6 L170.1,218.4 L170.4,218.1 L170.6,217.9 L170.9,217.7 L171.2,217.5 L171.5,217.4 L171.8,217.4 L172.1,217.4 L172.4,217.4 L172.8,217.5 L173.2,217.6 L173.6,217.7 L174.0,217.8 L174.4,217.9 L174.8,218.0 L175.2,218.1 L175.6,218.1 L176.0,218.1 L176.3,218.0 L176.7,218.0 L177.0,217.8 L177.4,217.7 L177.7,217.6 L178.0,217.4 L178.3,217.3 L178.7,217.2 L179.0,217.1 L179.3,217.1 L179.6,217.1 L179.9,217.2 L180.2,217.3 L180.5,217.4 L180.7,217.6 L181.0,217.8 L181.3,218.1 L181.5,218.4 L181.8,218.8 L182.1,219.2 L182.3,219.6 L182.6,220.0 L182.9,220.5 L183.1,220.9 L183.4,221.4 L183.6,221.8 L183.9,222.2 L184.1,222.5 L184.3,222.8 L184.6,223.0 L184.8,223.1 L185.0,223.1 L185.3,223.0 L185.5,222.9 L185.7,222.7 L185.9,222.4 L186.2,222.1 L186.4,221.7 L186.6,221.2 L186.8,220.8 L187.0,220.3 L187.1,219.8 L187.3,219.3 L187.5,218.7 L187.6,218.2 L187.8,217.7 L187.9,217.2 L188.0,216.6 L188.2,216.1 L188.3,215.5 L188.4,214.9 L188.5,214.3 L188.7,213.8 L188.8,213.2 L188.9,212.6 L189.0,211.9 L189.1,211.3 L189.3,210.7 L189.4,210.0 L189.5,209.4 L189.6,208.7 L189.7,208.0 L189.8,207.3 L190.0,206.6 L190.1,205.9 L190.2,205.2 L190.3,204.4 L190.4,203.7 L190.5,203.0 L190.6,202.2 L190.7,201.5 L190.8,200.7 L190.9,200.0 L191.0,199.3 L191.1,198.5 L191.2,197.8 L191.4,197.0 L191.5,196.3 L191.6,195.6 L191.7,194.9 L191.8,194.2 L191.9,193.5 L192.0,192.8 L192.2,192.1 L192.3,191.4 L192.4,190.8 L192.5,190.1 L192.6,189.5 L192.7,188.9 L192.9,188.3 L193.0,187.7 L193.1,187.1 L193.2,186.6 L193.4,186.1 L193.5,185.6 L193.7,185.1 L193.8,184.7 L194.0,184.2 L194.2,183.8 L194.4,183.5 L194.7,183.1 L194.9,182.9 L195.2,182.6 L195.4,182.4 L195.7,182.3 L195.9,182.2 L196.1,182.2 L196.4,182.2 L196.6,182.4 L196.9,182.5 L197.1,182.7 L197.4,183.0 L197.6,183.3 L197.9,183.7 L198.1,184.1 L198.2,184.6 L198.4,185.1 L198.5,185.6 L198.6,186.2 L198.7,186.8 L198.8,187.4 L198.8,188.1 L198.9,188.7 L199.0,189.5 L199.0,190.2 L199.1,190.9 L199.2,191.7 L199.2,192.5 L199.3,193.3 L199.3,194.1 L199.4,195.0 L199.4,195.8 L199.5,196.7 L199.5,197.5 L199.6,198.4 L199.6,199.2 L199.7,200.1 L199.7,201.0 L199.8,201.8 L199.9,202.7 L199.9,203.5 L200.0,204.4 L200.0,205.2 L200.1,206.1 L200.1,206.9 L200.2,207.7 L200.2,208.5 L200.3,209.4 L200.3,210.2 L200.4,211.0 L200.4,211.8 L200.5,212.6 L200.5,213.3 L200.6,214.1 L200.6,214.9 L200.7,215.7 L200.7,216.4 L200.8,217.2 L200.8,217.9 L200.9,218.6 L201.0,219.4 L201.0,220.1 L201.1,220.8 L201.1,221.5 L201.2,222.2 L201.3,222.9 L201.3,223.6 L201.4,224.3 L201.5,225.0 L201.5,225.6 L201.6,226.3 L201.7,227.0 L201.8,227.7 L201.8,228.4 L201.9,229.0 L202.0,229.7 L202.1,230.4 L202.2,231.1 L202.3,231.7 L202.4,232.4 L202.5,233.1 L202.6,233.8 L202.7,234.5 L202.8,235.2 L202.9,235.9 L203.1,236.6 L203.2,237.2 L203.4,237.8 L203.5,238.4 L203.7,238.9 L203.8,239.3 L204.0,239.7 L204.2,240.1 L204.4,240.3 L204.5,240.5 L204.7,240.6 L204.9,240.6 L205.0,240.5 L205.2,240.3 L205.4,240.1 L205.6,239.8 L205.8,239.4 L206.0,239.0 L206.2,238.5 L206.4,238.0 L206.6,237.4 L206.8,236.8 L207.1,236.2 L207.3,235.6 L207.6,235.0 L207.9,234.3 L208.2,233.6 L208.5,232.9 L208.8,232.3 L209.1,231.5 L209.5,230.8 L209.8,230.1 L210.2,229.4 L210.5,228.6 L210.9,227.9 L211.2,227.1 L211.6,226.4 L212.0,225.6 L212.3,224.8 L212.7,224.1 L213.0,223.3 L213.4,222.5 L213.7,221.8 L214.1,221.0 L214.4,220.2 L214.7,219.4 L215.0,218.7 L215.3,217.9 L215.6,217.2 L215.9,216.4 L216.2,215.7 L216.5,215.0 L216.8,214.3 L217.1,213.6 L217.4,212.9 L217.7,212.3 L218.0,211.6 L218.3,211.0 L218.6,210.4 L218.9,209.8 L219.2,209.3 L219.4,208.8 L219.7,208.3 L220.0,207.8 L220.3,207.4 L220.6,206.9 L220.8,206.6 L221.1,206.2 L221.4,205.9 L221.6,205.6 L221.9,205.3 L222.1,205.1 L222.4,204.9 L222.7,204.6 L223.0,204.4 L223.3,204.3 L223.6,204.1 L224.0,203.9 L224.3,203.8 L224.7,203.6 L225.1,203.5 L225.5,203.4 L225.9,203.3 L226.3,203.2 L226.7,203.1 L227.1,203.1 L227.6,203.0 L228.0,203.0 L228.3,203.0 L228.8,203.0 L229.2,203.0 L229.6,203.0 L230.0,203.1 L230.4,203.1 L230.8,203.2 L231.2,203.3 L231.6,203.4 L231.9,203.5 L232.3,203.7 L232.7,203.8 L233.0,204.0 L233.4,204.2 L233.7,204.4 L234.1,204.6 L234.4,204.8 L234.7,205.1 L235.1,205.4 L235.4,205.7 L235.7,206.0 L235.9,206.3 L236.2,206.7 L236.4,207.1 L236.7,207.5 L236.9,207.9 L237.1,208.4 L237.3,208.9 L237.5,209.3 L237.7,209.8 L237.9,210.3 L238.0,210.9 L238.2,211.4 L238.4,211.9 L238.6,212.4 L238.8,212.9 L239.0,213.4 L239.2,214.0 L239.5,214.5 L239.7,215.0 L239.9,215.5 L240.2,215.9 L240.4,216.4 L240.6,216.9 L240.9,217.4 L241.1,217.8 L241.4,218.3 L241.6,218.7 L241.9,219.1 L242.2,219.6 L242.4,220.0 L242.7,220.4 L243.0,220.8 L243.3,221.2 L243.5,221.6 L243.8,222.0 L244.1,222.3 L244.4,222.7 L244.7,223.0 L245.0,223.3 L245.3,223.6 L245.6,223.9 L245.9,224.2 L246.2,224.4 L246.5,224.7 L246.9,224.9 L247.2,225.0 L247.5,225.2 L247.8,225.3 L248.1,225.4 L248.4,225.5 L248.7,225.6 L249.0,225.6 L249.4,225.6 L249.7,225.6 L250.1,225.5 L250.5,225.5 L250.9,225.4 L251.3,225.3 L251.7,225.2 L252.1,225.0 L252.6,224.9 L253.0,224.7 L253.4,224.6 L253.8,224.4 L254.2,224.2 L254.6,224.0 L255.0,223.9 L255.4,223.7 L255.8,223.5 L256.2,223.4 L256.5,223.2 L256.9,223.0 L257.3,222.8 L257.6,222.7 L258.0,222.5 L258.4,222.3 L258.8,222.0 L259.1,221.8 L259.5,221.6 L259.9,221.3 L260.3,221.1 L260.7,220.9 L261.1,220.7 L261.4,220.5 L261.8,220.3 L262.2,220.2 L262.5,220.1 L262.9,220.1 L263.2,220.1 L263.5,220.2 L263.8,220.3 L264.0,220.5 L264.3,220.7 L264.5,220.9 L264.8,221.1 L265.0,221.4 L265.3,221.6 L265.6,221.8 L265.9,222.0 L266.2,222.2 L266.5,222.3 L266.8,222.4 L267.2,222.5 L267.5,222.6 L267.8,222.6 L268.1,222.6 L268.5,222.6 L268.8,222.6 L269.1,222.5 L269.4,222.5 L269.7,222.3 L270.1,222.2 L270.4,222.0 L270.7,221.8 L271.0,221.6 L271.3,221.3 L271.5,221.0 L271.7,220.6 L271.9,220.2 L272.1,219.8 L272.3,219.3 L272.5,218.8 L272.6,218.4 L272.8,217.9 L272.9,217.4 L273.1,216.9 L273.2,216.5 L273.4,216.1 L273.6,215.7 L273.8,215.4 L274.0,215.1 L274.3,214.9 L274.6,214.7 L274.9,214.6 L275.3,214.6 L275.7,214.6 L276.1,214.6 L276.5,214.6 L276.9,214.7 L277.2,214.7 L277.6,214.8 L278.0,214.8 L278.3,214.9 L278.7,215.0 L279.1,215.0 L279.4,215.0 L279.8,215.0 L280.1,215.0 L280.5,215.0 L280.9,214.9 L281.2,214.8 L281.6,214.7 L282.0,214.6 L282.4,214.5 L282.7,214.3 L283.1,214.1 L283.5,213.9 L283.9,213.7 L284.3,213.5 L284.7,213.3 L285.1,213.1 L285.4,212.9 L285.8,212.7 L286.1,212.5 L286.4,212.4 L286.8,212.2 L287.1,212.1 L287.4,212.1 L287.7,212.0 L288.0,212.0 L288.3,212.1 L288.5,212.2 L288.8,212.3 L289.0,212.5 L289.2,212.7 L289.3,213.0 L289.5,213.3 L289.7,213.6 L289.8,214.0 L290.0,214.3 L290.2,214.7 L290.4,215.1 L290.6,215.4 L290.8,215.8 L291.0,216.2 L291.3,216.5 L291.5,216.9 L291.8,217.2 L292.0,217.6 L292.3,217.9 L292.5,218.2 L292.8,218.5 L293.1,218.9 L293.4,219.2 L293.7,219.5 L294.0,219.8 L294.3,220.1 L294.6,220.3 L294.9,220.6 L295.2,220.9 L295.6,221.1 L295.9,221.4 L296.2,221.6 L296.6,221.8 L296.9,222.0 L297.3,222.2 L297.6,222.4 L298.0,222.6 L298.3,222.7 L298.7,222.9 L299.1,223.0 L299.5,223.1 L299.8,223.1 L300.2,223.2 L300.5,223.2 L300.8,223.1 L301.1,223.0 L301.4,222.9 L301.7,222.8 L301.9,222.6 L302.2,222.4 L302.4,222.1 L302.6,221.9 L302.8,221.6 L303.0,221.2 L303.2,220.9 L303.3,220.6 L303.5,220.2 L303.6,219.8 L303.7,219.4 L303.8,219.0 L303.9,218.5 L304.0,218.1 L304.1,217.7 L304.3,217.2 L304.4,216.8 L304.5,216.3 L304.6,215.8 L304.8,215.4 L304.9,214.9 L305.0,214.4 L305.2,214.0 L305.3,213.5 L305.5,213.1 L305.6,212.6 L305.8,212.1 L305.9,211.7 L306.1,211.3 L306.2,210.8 L306.4,210.4 L306.6,210.0 L306.7,209.6 L306.9,209.2 L307.1,208.9 L307.3,208.5 L307.5,208.2 L307.7,208.0 L307.9,207.8 L308.1,207.7 L308.3,207.6 L308.5,207.6 L308.7,207.7 L308.9,207.8 L309.1,208.0 L309.3,208.3 L309.5,208.6 L309.7,208.9 L309.9,209.2 L310.0,209.6 L310.2,209.9 L310.3,210.3 L310.4,210.7 L310.5,211.1 L310.6,211.5 L310.7,211.9 L310.7,212.3 L310.8,212.8 L310.9,213.2 L311.0,213.7 L311.1,214.2 L311.2,214.8 L311.4,215.3 L311.5,215.9 L311.6,216.6 L311.8,217.2 L311.9,217.9 L312.0,218.5 L312.2,219.2 L312.4,220.0 L312.5,220.7 L312.7,221.4 L312.9,222.1 L313.0,222.9 L313.2,223.6 L313.4,224.3 L313.6,225.0 L313.7,225.7 L313.9,226.5 L314.1,227.1 L314.3,227.8 L314.5,228.5 L314.7,229.1 L314.9,229.7 L315.1,230.3 L315.3,230.8 L315.5,231.3 L315.7,231.8 L315.9,232.2 L316.2,232.5 L316.4,232.8 L316.6,233.0 L316.8,233.2 L317.0,233.2 L317.2,233.2 L317.4,233.1 L317.5,232.8 L317.7,232.6 L317.9,232.2 L318.1,231.8 L318.2,231.3 L318.4,230.8 L318.6,230.2 L318.7,229.6 L318.9,228.9 L319.0,228.2 L319.2,227.5 L319.3,226.7 L319.5,226.0 L319.6,225.2 L319.7,224.4 L319.9,223.7 L320.0,222.9 L320.1,222.1 L320.2,221.3 L320.3,220.5 L320.5,219.7 L320.6,218.9 L320.7,218.1 L320.8,217.3 L320.9,216.4 L321.0,215.6 L321.1,214.8 L321.2,213.9 L321.3,213.1 L321.4,212.2 L321.5,211.4 L321.6,210.5 L321.7,209.6 L321.8,208.7 L321.9,207.8 L322.0,206.9 L322.1,206.0 L322.2,205.1 L322.3,204.2 L322.4,203.2 L322.5,202.3 L322.6,201.3 L322.6,200.4 L322.7,199.4 L322.8,198.5 L322.9,197.5 L323.0,196.6 L323.0,195.6 L323.1,194.7 L323.2,193.7 L323.3,192.8 L323.4,191.9 L323.4,191.0 L323.5,190.1 L323.6,189.2 L323.7,188.3 L323.8,187.4 L323.9,186.6 L324.0,185.8 L324.0,185.0 L324.1,184.2 L324.2,183.4 L324.3,182.7 L324.4,182.0 L324.6,181.3 L324.7,180.6 L324.8,180.0 L324.9,179.4 L325.0,178.8 L325.1,178.3 L325.3,177.7 L325.4,177.2 L325.5,176.7 L325.7,176.2 L325.8,175.8 L325.9,175.4 L326.1,175.0 L326.3,174.6 L326.4,174.3 L326.6,173.9 L326.8,173.6 L327.0,173.4 L327.3,173.1 L327.5,173.0 L327.8,172.8 L328.0,172.8 L328.2,172.8 L328.4,172.9 L328.6,173.0 L328.8,173.2 L329.0,173.5 L329.1,173.8 L329.3,174.1 L329.5,174.5 L329.6,174.9 L329.7,175.3 L329.9,175.7 L330.0,176.1 L330.1,176.5 L330.1,177.0 L330.2,177.4 L330.3,177.8 L330.4,178.3 L330.5,178.8 L330.5,179.3 L330.6,179.8 L330.7,180.3 L330.7,180.9 L330.8,181.5 L330.9,182.1 L330.9,182.7 L331.0,183.4 L331.1,184.1 L331.1,184.8 L331.2,185.5 L331.3,186.3 L331.3,187.1 L331.4,187.9 L331.5,188.8 L331.5,189.6 L331.6,190.5 L331.7,191.4 L331.7,192.3 L331.8,193.3 L331.8,194.2 L331.9,195.1 L332.0,196.1 L332.0,197.1 L332.1,198.0 L332.1,199.0 L332.2,200.0 L332.2,201.0 L332.3,202.0 L332.3,203.0 L332.4,204.0 L332.4,204.9 L332.4,205.9 L332.5,206.9 L332.5,207.9 L332.6,208.8 L332.6,209.8 L332.6,210.7 L332.7,211.7 L332.7,212.6 L332.7,213.6 L332.8,214.5 L332.8,215.4 L332.8,216.3 L332.9,217.2 L332.9,218.1 L332.9,219.0 L333.0,219.9 L333.0,220.7 L333.0,221.6 L333.0,222.4 L333.1,223.2 L333.1,224.1 L333.1,224.9 L333.1,225.6 L333.2,226.4 L333.2,227.2 L333.2,227.9 L333.2,228.7 L333.3,229.4 L333.3,230.1 L333.3,230.8 L333.3,231.5 L333.3,232.2 L333.4,232.9 L333.4,233.6 L333.4,234.3 L333.4,235.0 L333.4,235.7 L333.5,236.4 L333.5,237.1 L333.5,237.8 L333.5,238.5 L333.5,239.2 L333.6,240.0 L333.6,240.7 L333.6,241.5 L333.6,242.3 L333.6,243.1 L333.6,243.9 L333.7,244.7 L333.7,245.6 L333.7,246.4 L333.7,247.3 L333.7,248.2 L333.7,249.1 L333.7,250.0 L333.7,250.9 L333.8,251.8 L333.8,252.8 L333.8,253.7 L333.8,254.7 L333.8,255.7 L333.8,256.7 L333.8,257.7 L333.8,258.6 L333.9,259.7 L333.9,260.7 L333.9,261.7 L333.9,262.7 L333.9,263.7 L333.9,264.7 L334.0,265.8 L334.0,266.8 L334.0,267.8 L334.0,268.9 L334.1,269.9 L334.1,270.9 L334.1,272.0 L334.2,273.0 L334.2,274.0 L334.3,275.0 L334.3,276.1 L334.4,277.1 L334.4,278.1 L334.5,279.1 L334.5,280.1 L334.6,281.1 L334.7,282.1 L334.7,283.1 L334.8,284.1 L334.8,285.1 L334.9,286.0 L335.0,287.0 L335.0,287.9 L335.1,288.9 L335.2,289.8 L335.2,290.7 L335.3,291.6 L335.4,292.5 L335.4,293.4 L335.5,294.2 L335.5,295.1 L335.6,295.9 L335.7,296.7 L335.7,297.5 L335.8,298.3 L335.8,299.1 L335.9,299.9 L336.0,300.6 L336.0,301.4 L336.1,302.2 L336.1,302.9 L336.2,303.6 L336.3,304.4 L336.3,305.1 L336.4,305.8 L336.5,306.6 L336.5,307.3 L336.6,308.0 L336.7,308.7 L336.8,309.5 L336.8,310.2 L336.9,310.9 L337.0,311.7 L337.1,312.4 L337.1,313.1 L337.2,313.8 L337.3,314.5 L337.4,315.1 L337.5,315.7 L337.6,316.2 L337.7,316.7 L337.8,317.1 L337.9,317.4 L338.0,317.6 L338.1,317.8 L338.2,317.8 L338.3,317.7 L338.4,317.6 L338.5,317.3 L338.6,316.9 L338.8,316.5 L338.9,315.9 L339.0,315.3 L339.1,314.7 L339.3,314.0 L339.4,313.2 L339.5,312.4 L339.6,311.5 L339.8,310.6 L339.9,309.7 L340.0,308.7 L340.1,307.8 L340.2,306.8 L340.3,305.8 L340.4,304.9 L340.5,303.9 L340.6,303.0 L340.6,302.1 L340.7,301.2 L340.8,300.3 L340.9,299.5 L340.9,298.6 L341.0,297.8 L341.1,297.0 L341.2,296.2 L341.2,295.4 L341.3,294.6 L341.4,293.8 L341.4,293.1 L341.5,292.3 L341.5,291.6 L341.6,290.8 L341.6,290.1 L341.7,289.3 L341.7,288.6 L341.7,287.8 L341.8,287.1 L341.8,286.3 L341.8,285.5 L341.8,284.8 L341.8,284.0 L341.8,283.2 L341.8,282.4 L341.8,281.7 L341.8,280.9 L341.8,280.1 L341.9,279.3 L341.9,278.5 L341.9,277.7 L341.9,276.9 L341.9,276.1 L341.9,275.2 L341.9,274.4 L341.9,273.6 L341.9,272.8 L341.9,272.0 L341.9,271.2 L341.9,270.4 L341.9,269.6 L341.9,268.8 L341.9,268.0 L341.9,267.2 L341.9,266.4 L341.9,265.6 L341.9,264.8 L341.9,264.0 L341.9,263.2 L341.9,262.4 L341.9,261.6 L341.9,260.8 L341.9,260.1 L341.9,259.3 L341.9,258.5 L341.9,257.7 L341.9,256.9 L341.8,256.2 L341.8,255.4 L341.8,254.6 L341.8,253.9 L341.8,253.1 L341.8,252.3 L341.8,251.5 L341.8,250.8 L341.8,250.0 L341.8,249.2 L341.8,248.5 L341.8,247.7 L341.8,246.9 L341.8,246.1 L341.8,245.4 L341.7,244.6 L341.7,243.8 L341.7,243.1 L341.7,242.3 L341.7,241.5 L341.7,240.7 L341.7,240.0 L341.7,239.2 L341.7,238.4 L341.7,237.6 L341.7,236.9 L341.6,236.1 L341.6,235.3 L341.6,234.5 L341.6,233.8 L341.6,233.0" fill="none" stroke="#0000ff" stroke-width="1.75" stroke-linejoin="round"/>
<path d="M53.7,415.4 L54.1,415.3 L54.5,415.3 L54.8,415.3 L55.2,415.2 L55.6,415.2 L56.0,415.2 L56.4,415.2 L56.8,415.3 L57.1,415.3 L57.5,415.4 L57.9,415.5 L58.3,415.7 L58.7,415.8 L59.1,416.0 L59.5,416.2 L59.9,416.5 L60.3,416.7 L60.7,416.9 L61.1,417.2 L61.5,417.4 L61.9,417.6 L62.3,417.8 L62.6,418.0 L63.0,418.2 L63.4,418.4 L63.8,418.5 L64.2,418.6 L64.5,418.7 L64.9,418.8 L65.3,418.8 L65.6,418.7 L65.9,418.6 L66.3,418.5 L66.6,418.3 L66.9,418.1 L67.2,417.9 L67.5,417.6 L67.8,417.3 L68.1,417.0 L68.3,416.7 L68.6,416.3 L68.9,416.0 L69.1,415.6 L69.4,415.3 L69.6,415.0 L69.8,414.6 L70.0,414.3 L70.3,414.0 L70.5,413.8 L70.7,413.5 L70.9,413.3 L71.2,413.0 L71.4,412.8 L71.7,412.7 L71.9,412.6 L72.2,412.5 L72.5,412.5 L72.7,412.5 L73.0,412.6 L73.3,412.7 L73.5,412.8 L73.8,413.0 L74.1,413.3 L74.4,413.6 L74.7,413.8 L74.9,414.2 L75.2,414.5 L75.5,414.8 L75.8,415.1 L76.0,415.5 L76.3,415.8 L76.6,416.1 L76.8,416.5 L77.1,416.8 L77.4,417.1 L77.7,417.4 L78.0,417.7 L78.2,418.0 L78.5,418.2 L78.9,418.5 L79.2,418.7 L79.5,418.9 L79.8,419.1 L80.1,419.2 L80.5,419.3 L80.8,419.4 L81.1,419.5 L81.5,419.5 L81.8,419.5 L82.2,419.4 L82.6,419.3 L83.0,419.2 L83.3,419.1 L83.7,418.9 L84.1,418.7 L84.5,418.5 L84.8,418.3 L85.2,418.1 L85.6,417.9 L85.9,417.7 L86.2,417.4 L86.6,417.2 L86.9,416.9 L87.3,416.7 L87.6,416.4 L87.9,416.2 L88.3,415.9 L88.6,415.6 L88.9,415.4 L89.3,415.1 L89.7,414.8 L90.0,414.5 L90.4,414.2 L90.8,414.0 L91.2,413.7 L91.5,413.5 L91.9,413.4 L92.2,413.3 L92.5,413.2 L92.8,413.2 L93.1,413.3 L93.4,413.4 L93.7,413.5 L93.9,413.7 L94.2,413.9 L94.4,414.2 L94.7,414.5 L94.9,414.8 L95.2,415.1 L95.5,415.4 L95.7,415.6 L96.0,415.9 L96.3,416.2 L96.5,416.4 L96.8,416.5 L97.0,416.6 L97.3,416.6 L97.6,416.5 L97.8,416.4 L98.1,416.2 L98.3,416.0 L98.6,415.7 L98.9,415.4 L99.1,415.1 L99.3,414.8 L99.6,414.5 L99.8,414.1 L100.0,413.8 L100.2,413.4 L100.4,413.1 L100.6,412.7 L100.8,412.4 L101.0,412.0 L101.2,411.7 L101.4,411.3 L101.6,410.9 L101.8,410.6 L102.1,410.2 L102.3,409.9 L102.5,409.5 L102.7,409.3 L102.9,409.0 L103.1,408.9 L103.4,408.7 L103.6,408.7 L103.8,408.7 L104.1,408.8 L104.4,409.0 L104.6,409.2 L104.9,409.5 L105.2,409.8 L105.4,410.2 L105.6,410.5 L105.7,410.9 L105.9,411.4 L106.0,411.8 L106.2,412.3 L106.3,412.8 L106.5,413.3 L106.6,413.8 L106.7,414.3 L106.8,414.9 L106.9,415.4 L107.0,416.0 L107.1,416.6 L107.2,417.1 L107.3,417.7 L107.4,418.3 L107.5,418.9 L107.6,419.5 L107.7,420.1 L107.7,420.7 L107.8,421.3 L107.9,421.9 L107.9,422.5 L108.0,423.1 L108.1,423.8 L108.1,424.4 L108.2,425.0 L108.3,425.7 L108.4,426.3 L108.4,427.0 L108.5,427.6 L108.6,428.3 L108.7,429.0 L108.7,429.7 L108.8,430.3 L108.9,431.0 L109.0,431.7 L109.1,432.4 L109.1,433.1 L109.2,433.7 L109.3,434.4 L109.4,435.1 L109.5,435.7 L109.6,436.4 L109.7,437.0 L109.8,437.6 L109.9,438.2 L110.0,438.8 L110.1,439.4 L110.2,440.0 L110.3,440.6 L110.4,441.1 L110.6,441.6 L110.7,442.2 L110.8,442.7 L111.0,443.2 L111.1,443.7 L111.3,444.2 L111.4,444.7 L111.6,445.2 L111.7,445.8 L111.9,446.3 L112.0,446.8 L112.2,447.3 L112.4,447.8 L112.6,448.3 L112.8,448.7 L113.0,449.1 L113.2,449.5 L113.3,449.7 L113.5,449.9 L113.7,450.1 L113.9,450.1 L114.0,450.0 L114.2,449.9 L114.3,449.6 L114.5,449.3 L114.6,449.0 L114.8,448.6 L114.9,448.1 L115.0,447.6 L115.1,447.1 L115.2,446.6 L115.3,446.1 L115.4,445.5 L115.5,445.0 L115.6,444.4 L115.6,443.8 L115.7,443.2 L115.8,442.5 L115.9,441.9 L115.9,441.2 L116.0,440.6 L116.1,439.9 L116.1,439.2 L116.2,438.5 L116.3,437.8 L116.4,437.0 L116.4,436.3 L116.5,435.6 L116.6,434.8 L116.6,434.0 L116.7,433.3 L116.8,432.5 L116.8,431.7 L116.9,430.9 L116.9,430.1 L117.0,429.3 L117.1,428.4 L117.1,427.6 L117.2,426.7 L117.2,425.9 L117.3,425.0 L117.3,424.2 L117.4,423.3 L117.4,422.4 L117.4,421.5 L117.5,420.6 L117.5,419.7 L117.5,418.7 L117.6,417.8 L117.6,416.9 L117.6,415.9 L117.6,415.0 L117.7,414.1 L117.7,413.1 L117.7,412.1 L117.7,411.2 L117.8,410.2 L117.8,409.3 L117.8,408.3 L117.8,407.3 L117.8,406.4 L117.8,405.4 L117.9,404.5 L117.9,403.5 L117.9,402.6 L117.9,401.6 L117.9,400.7 L117.9,399.7 L118.0,398.8 L118.0,397.9 L118.0,397.0 L118.0,396.1 L118.0,395.2 L118.1,394.3 L118.1,393.4 L118.1,392.5 L118.1,391.6 L118.1,390.8 L118.1,389.9 L118.2,389.0 L118.2,388.2 L118.2,387.3 L118.2,386.5 L118.2,385.6 L118.2,384.8 L118.3,383.9 L118.3,383.1 L118.3,382.3 L118.3,381.4 L118.3,380.6 L118.4,379.7 L118.4,378.9 L118.4,378.1 L118.4,377.2 L118.4,376.4 L118.5,375.5 L118.5,374.7 L118.5,373.8 L118.5,373.0 L118.6,372.2 L118.6,371.3 L118.6,370.5 L118.6,369.6 L118.7,368.8 L118.7,368.0 L118.7,367.1 L118.8,366.3 L118.8,365.5 L118.8,364.6 L118.8,363.8 L118.9,363.0 L118.9,362.2 L118.9,361.4 L119.0,360.6 L119.0,359.8 L119.0,359.0 L119.1,358.2 L119.1,357.4 L119.1,356.6 L119.2,355.9 L119.2,355.1 L119.3,354.3 L119.3,353.6 L119.3,352.8 L119.4,352.0 L119.4,351.3 L119.5,350.5 L119.5,349.8 L119.5,349.0 L119.6,348.3 L119.6,347.6 L119.7,346.8 L119.7,346.1 L119.8,345.3 L119.8,344.6 L119.9,343.8 L119.9,343.1 L120.0,342.3 L120.0,341.6 L120.1,340.8 L120.1,340.1 L120.2,339.3 L120.2,338.6 L120.3,337.8 L120.4,337.1 L120.4,336.3 L120.5,335.6 L120.6,334.8 L120.6,334.1 L120.7,333.3 L120.8,332.6 L120.8,331.8 L120.9,331.1 L121.0,330.4 L121.1,329.6 L121.2,328.9 L121.3,328.2 L121.5,327.5 L121.6,326.9 L121.8,326.3 L121.9,325.7 L122.1,325.2 L122.2,324.8 L122.4,324.5 L122.5,324.2 L122.7,324.1 L122.8,324.0 L122.9,324.1 L123.1,324.2 L123.3,324.5 L123.4,324.8 L123.6,325.2 L123.7,325.7 L123.9,326.2 L124.1,326.8 L124.2,327.5 L124.4,328.1 L124.5,328.9 L124.6,329.6 L124.7,330.3 L124.8,331.1 L124.8,331.8 L124.9,332.5 L125.0,333.3 L125.0,334.0 L125.1,334.8 L125.1,335.5 L125.2,336.3 L125.2,337.0 L125.3,337.8 L125.3,338.5 L125.4,339.3 L125.4,340.0 L125.5,340.8 L125.5,341.5 L125.5,342.3 L125.6,343.0 L125.6,343.8 L125.7,344.5 L125.7,345.3 L125.8,346.0 L125.8,346.8 L125.9,347.5 L125.9,348.3 L125.9,349.0 L126.0,349.8 L126.0,350.5 L126.1,351.3 L126.1,352.0 L126.2,352.8 L126.2,353.5 L126.2,354.3 L126.3,355.1 L126.3,355.8 L126.4,356.6 L126.4,357.4 L126.4,358.2 L126.5,358.9 L126.5,359.7 L126.5,360.5 L126.5,361.3 L126.6,362.1 L126.6,363.0 L126.6,363.8 L126.7,364.6 L126.7,365.4 L126.7,366.2 L126.7,367.1 L126.8,367.9 L126.8,368.7 L126.8,369.6 L126.8,370.4 L126.8,371.3 L126.9,372.1 L126.9,373.0 L126.9,373.8 L126.9,374.6 L126.9,375.5 L127.0,376.3 L127.0,377.2 L127.0,378.0 L127.0,378.9 L127.0,379.7 L127.1,380.5 L127.1,381.4 L127.1,382.2 L127.1,383.1 L127.1,383.9 L127.2,384.7 L127.2,385.6 L127.2,386.4 L127.2,387.3 L127.2,388.1 L127.3,389.0 L127.3,389.9 L127.3,390.7 L127.3,391.6 L127.3,392.5 L127.3,393.3 L127.4,394.2 L127.4,395.1 L127.4,396.0 L127.4,396.9 L127.4,397.8 L127.4,398.8 L127.4,399.7 L127.5,400.6 L127.5,401.6 L127.5,402.5 L127.5,403.5 L127.5,404.4 L127.5,405.4 L127.5,406.3 L127.5,407.3 L127.5,408.2 L127.6,409.2 L127.6,410.2 L127.6,411.1 L127.6,412.1 L127.6,413.0 L127.6,414.0 L127.6,414.9 L127.6,415.9 L127.6,416.8 L127.7,417.8 L127.7,418.7 L127.7,419.6 L127.7,420.5 L127.7,421.5 L127.7,422.4 L127.8,423.3 L127.8,424.2 L127.8,425.1 L127.8,425.9 L127.9,426.8 L127.9,427.7 L127.9,428.6 L128.0,429.4 L128.0,430.3 L128.0,431.2 L128.0,432.0 L128.1,432.9 L128.1,433.8 L128.1,434.6 L128.2,435.5 L128.2,436.4 L128.2,437.2 L128.2,438.1 L128.3,439.0 L128.3,439.8 L128.3,440.7 L128.3,441.6 L128.4,442.4 L128.4,443.3 L128.4,444.2 L128.4,445.1 L128.4,445.9 L128.5,446.8 L128.5,447.7 L128.5,448.6 L128.5,449.4 L128.5,450.3 L128.6,451.1 L128.6,452.0 L128.6,452.8 L128.6,453.7 L128.7,454.5 L128.7,455.4 L128.7,456.2 L128.7,457.0 L128.8,457.8 L128.8,458.6 L128.8,459.4 L128.9,460.2 L128.9,460.9 L128.9,461.7 L129.0,462.5 L129.0,463.2 L129.1,464.0 L129.1,464.7 L129.2,465.5 L129.2,466.3 L129.3,467.0 L129.3,467.8 L129.4,468.6 L129.4,469.4 L129.5,470.2 L129.5,471.0 L129.6,471.8 L129.6,472.7 L129.7,473.5 L129.8,474.4 L129.8,475.3 L129.9,476.2 L129.9,477.1 L130.0,478.0 L130.1,478.9 L130.1,479.8 L130.2,480.7 L130.3,481.6 L130.4,482.4 L130.4,483.1 L130.5,483.8 L130.6,484.5 L130.7,485.0 L130.8,485.5 L130.8,485.9 L130.9,486.2 L131.0,486.3 L131.1,486.4 L131.2,486.3 L131.3,486.2 L131.4,485.9 L131.5,485.5 L131.6,485.0 L131.7,484.5 L131.8,483.8 L131.9,483.1 L132.0,482.4 L132.1,481.6 L132.2,480.7 L132.3,479.8 L132.4,478.9 L132.5,478.0 L132.6,477.1 L132.7,476.2 L132.8,475.2 L132.9,474.3 L133.0,473.4 L133.1,472.5 L133.1,471.7 L133.2,470.8 L133.3,470.0 L133.4,469.2 L133.5,468.3 L133.6,467.5 L133.7,466.7 L133.7,466.0 L133.8,465.2 L133.9,464.4 L134.0,463.7 L134.1,462.9 L134.1,462.2 L134.2,461.5 L134.3,460.7 L134.4,460.0 L134.4,459.3 L134.5,458.6 L134.6,457.9 L134.7,457.2 L134.7,456.5 L134.8,455.8 L134.9,455.1 L134.9,454.4 L135.0,453.7 L135.0,453.0 L135.1,452.2 L135.2,451.5 L135.2,450.8 L135.3,450.1 L135.4,449.3 L135.4,448.6 L135.5,447.9 L135.5,447.1 L135.6,446.3 L135.7,445.6 L135.7,444.8 L135.8,444.0 L135.8,443.1 L135.9,442.3 L136.0,441.5 L136.0,440.6 L136.1,439.8 L136.1,438.9 L136.2,438.1 L136.2,437.2 L136.3,436.3 L136.4,435.5 L136.4,434.6 L136.5,433.7 L136.5,432.8 L136.6,431.9 L136.7,431.1 L136.7,430.2 L136.8,429.3 L136.9,428.4 L137.0,427.6 L137.0,426.7 L137.1,425.8 L137.2,425.0 L137.3,424.2 L137.4,423.3 L137.5,422.5 L137.6,421.7 L137.7,420.8 L137.8,420.0 L137.9,419.2 L138.0,418.4 L138.1,417.6 L138.3,416.9 L138.4,416.1 L138.5,415.3 L138.6,414.6 L138.8,413.8 L138.9,413.1 L139.0,412.3 L139.2,411.6 L139.3,410.9 L139.5,410.1 L139.6,409.4 L139.7,408.7 L139.9,408.0 L140.0,407.4 L140.2,406.7 L140.4,406.0 L140.5,405.4 L140.7,404.7 L140.9,404.1 L141.1,403.5 L141.3,402.9 L141.4,402.3 L141.6,401.7 L141.8,401.1 L142.1,400.6 L142.3,400.1 L142.5,399.5 L142.7,399.0 L143.0,398.5 L143.2,398.1 L143.5,397.6 L143.7,397.2 L144.0,396.7 L144.3,396.3 L144.6,395.9 L144.9,395.6 L145.2,395.2 L145.6,394.9 L145.9,394.5 L146.2,394.2 L146.5,393.9 L146.9,393.6 L147.2,393.3 L147.6,393.1 L148.0,392.8 L148.3,392.5 L148.7,392.3 L149.1,392.1 L149.5,391.8 L149.9,391.6 L150.3,391.4 L150.8,391.2 L151.3,390.9 L151.8,390.7 L152.3,390.5 L152.9,390.3 L153.5,390.1 L154.1,390.0 L154.7,389.8 L155.3,389.7 L155.8,389.6 L156.3,389.6 L156.8,389.6 L157.1,389.6 L157.4,389.7 L157.7,389.8 L157.9,390.0 L158.0,390.2 L158.2,390.5 L158.3,390.8 L158.5,391.2 L158.6,391.5 L158.8,392.0 L158.9,392.4 L159.1,392.9 L159.2,393.4 L159.4,394.0 L159.6,394.5 L159.8,395.1 L159.9,395.6 L160.1,396.2 L160.3,396.7 L160.5,397.3 L160.7,397.8 L160.9,398.2 L161.1,398.7 L161.3,399.1 L161.5,399.4 L161.8,399.7 L162.1,399.9 L162.4,400.1 L162.7,400.3 L163.1,400.4 L163.5,400.4 L163.9,400.4 L164.3,400.4 L164.7,400.3 L165.1,400.1 L165.5,400.0 L166.0,399.8 L166.5,399.6 L167.0,399.4 L167.5,399.2 L168.1,399.1 L168.6,398.9 L169.1,398.8 L169.6,398.7 L170.0,398.6 L170.5,398.6 L170.8,398.7 L171.1,398.8 L171.4,399.0 L171.7,399.3 L171.9,399.6 L172.2,400.0 L172.4,400.4 L172.6,400.9 L172.8,401.4 L173.1,401.9 L173.3,402.4 L173.5,403.0 L173.7,403.6 L173.9,404.1 L174.2,404.7 L174.4,405.2 L174.7,405.8 L174.9,406.3 L175.1,406.9 L175.4,407.5 L175.6,408.0 L175.9,408.6 L176.1,409.1 L176.3,409.7 L176.6,410.2 L176.8,410.8 L177.1,411.4 L177.3,412.0 L177.5,412.5 L177.8,413.1 L178.0,413.7 L178.3,414.3 L178.5,414.9 L178.7,415.5 L179.0,416.1 L179.2,416.6 L179.5,417.2 L179.7,417.7 L179.9,418.2 L180.2,418.7 L180.5,419.2 L180.7,419.6 L181.0,420.0 L181.3,420.3 L181.6,420.6 L181.9,420.9 L182.3,421.1 L182.7,421.3 L183.1,421.4 L183.5,421.5 L183.8,421.6 L184.2,421.7 L184.6,421.8 L184.9,421.9 L185.3,421.9 L185.6,422.0 L185.9,422.1 L186.2,422.1 L186.5,422.2 L186.8,422.3 L187.0,422.5 L187.3,422.6 L187.5,422.8 L187.8,423.1 L188.0,423.3 L188.2,423.6 L188.4,424.0 L188.6,424.3 L188.8,424.7 L189.0,425.1 L189.2,425.5 L189.4,426.0 L189.6,426.4 L189.8,426.9 L190.0,427.3 L190.2,427.8 L190.4,428.2 L190.6,428.7 L190.8,429.1 L191.0,429.5 L191.2,429.9 L191.4,430.2 L191.6,430.5 L191.8,430.8 L192.0,431.0 L192.3,431.2 L192.5,431.3 L192.8,431.4 L193.0,431.4 L193.3,431.3 L193.5,431.2 L193.6,431.0 L193.8,430.7 L194.0,430.4 L194.1,430.0 L194.3,429.6 L194.4,429.1 L194.6,428.6 L194.7,428.1 L194.8,427.5 L195.0,427.0 L195.1,426.3 L195.2,425.7 L195.4,425.1 L195.5,424.4 L195.6,423.7 L195.8,423.1 L195.9,422.4 L196.0,421.7 L196.1,421.0 L196.2,420.3 L196.4,419.6 L196.5,418.9 L196.6,418.2 L196.7,417.5 L196.9,416.9 L197.0,416.2 L197.1,415.5 L197.3,414.9 L197.4,414.3 L197.6,413.6 L197.8,413.0 L197.9,412.5 L198.1,411.9 L198.3,411.4 L198.5,411.0 L198.7,410.6 L198.9,410.2 L199.1,409.9 L199.3,409.7 L199.5,409.6 L199.7,409.5 L200.0,409.5 L200.2,409.6 L200.5,409.8 L200.7,410.0 L201.0,410.3 L201.3,410.7 L201.5,411.1 L201.7,411.6 L201.9,412.1 L202.0,412.7 L202.2,413.3 L202.3,413.9 L202.4,414.5 L202.6,415.2 L202.7,415.9 L202.8,416.6 L202.9,417.3 L203.0,418.1 L203.0,418.8 L203.1,419.5 L203.2,420.2 L203.3,420.9 L203.4,421.6 L203.5,422.3 L203.6,423.0 L203.7,423.6 L203.8,424.2 L203.9,424.8 L204.0,425.3 L204.1,425.8 L204.1,426.3 L204.2,426.8 L204.3,427.2 L204.4,427.6 L204.5,428.0 L204.6,428.4 L204.8,428.7 L204.9,429.0 L205.1,429.3 L205.3,429.6 L205.5,429.9 L205.8,430.1 L206.2,430.3 L206.5,430.4 L206.8,430.4 L207.0,430.4 L207.3,430.4 L207.5,430.2 L207.7,430.0 L207.9,429.7 L208.0,429.3 L208.2,428.9 L208.4,428.4 L208.5,427.9 L208.7,427.4 L208.8,426.8 L209.0,426.2 L209.1,425.6 L209.2,425.0 L209.4,424.4 L209.5,423.7 L209.6,423.1 L209.7,422.4 L209.8,421.8 L209.9,421.1 L210.0,420.5 L210.1,419.9 L210.2,419.2 L210.3,418.6 L210.4,418.0 L210.5,417.4 L210.6,416.9 L210.8,416.3 L210.9,415.8 L211.0,415.3 L211.2,414.8 L211.4,414.3 L211.6,413.9 L211.9,413.5 L212.1,413.2 L212.4,412.9 L212.6,412.7 L212.9,412.6 L213.1,412.5 L213.3,412.5 L213.6,412.6 L213.8,412.8 L214.1,413.0 L214.3,413.4 L214.5,413.7 L214.8,414.1 L215.0,414.6 L215.2,415.1 L215.5,415.6 L215.7,416.1 L215.9,416.7 L216.0,417.2 L216.2,417.8 L216.4,418.4 L216.6,419.0 L216.7,419.5 L216.9,420.1 L217.0,420.8 L217.2,421.4 L217.4,422.0 L217.5,422.6 L217.7,423.2 L217.8,423.9 L218.0,424.5 L218.2,425.1 L218.3,425.7 L218.5,426.3 L218.7,426.9 L218.9,427.6 L219.1,428.2 L219.2,428.8 L219.4,429.3 L219.6,429.9 L219.8,430.5 L220.0,431.1 L220.2,431.7 L220.4,432.2 L220.6,432.8 L220.8,433.3 L221.0,433.9 L221.2,434.4 L221.4,434.9 L221.6,435.4 L221.9,435.9 L222.1,436.4 L222.3,436.9 L222.6,437.3 L222.9,437.7 L223.1,438.1 L223.4,438.5 L223.6,438.8 L223.9,439.0 L224.2,439.3 L224.5,439.4 L224.8,439.6 L225.1,439.6 L225.4,439.7 L225.7,439.6 L226.0,439.5 L226.3,439.4 L226.6,439.2 L226.8,439.0 L227.0,438.7 L227.2,438.3 L227.4,437.9 L227.6,437.5 L227.7,437.1 L227.9,436.6 L228.1,436.1 L228.2,435.6 L228.4,435.0 L228.6,434.5 L228.7,434.0 L228.9,433.5 L229.1,432.9 L229.2,432.4 L229.4,431.9 L229.5,431.4 L229.7,431.0 L229.9,430.5 L230.0,430.0 L230.2,429.5 L230.4,429.0 L230.5,428.5 L230.7,428.1 L230.9,427.5 L231.1,427.0 L231.3,426.5 L231.5,426.0 L231.7,425.4 L231.9,424.9 L232.1,424.4 L232.4,423.9 L232.6,423.4 L232.9,423.0 L233.1,422.6 L233.4,422.3 L233.6,422.0 L233.9,421.8 L234.1,421.7 L234.4,421.7 L234.7,421.7 L234.9,421.8 L235.2,422.0 L235.5,422.2 L235.8,422.5 L236.0,422.8 L236.3,423.1 L236.6,423.5 L236.9,423.8 L237.2,424.2 L237.5,424.5 L237.8,424.8 L238.1,425.1 L238.4,425.4 L238.7,425.6 L239.0,425.8 L239.3,425.9 L239.5,425.9 L239.8,425.9 L240.1,425.7 L240.3,425.6 L240.6,425.3 L240.8,425.0 L241.0,424.7 L241.3,424.3 L241.5,423.9 L241.7,423.5 L241.9,423.0 L242.1,422.5 L242.4,422.0 L242.6,421.5 L242.8,420.9 L243.0,420.4 L243.2,419.8 L243.4,419.2 L243.5,418.6 L243.7,418.0 L243.9,417.5 L244.1,416.9 L244.3,416.3 L244.5,415.7 L244.7,415.2 L244.9,414.6 L245.0,414.1 L245.2,413.5 L245.4,413.0 L245.5,412.5 L245.7,412.0 L245.9,411.4 L246.0,410.9 L246.2,410.4 L246.4,409.9 L246.6,409.4 L246.8,408.8 L247.0,408.3 L247.2,407.7 L247.4,407.2 L247.7,406.6 L247.9,406.1 L248.2,405.5 L248.5,405.0 L248.7,404.5 L249.0,404.0 L249.3,403.6 L249.6,403.3 L249.9,403.0 L250.2,402.7 L250.5,402.6 L250.8,402.5 L251.0,402.5 L251.3,402.6 L251.6,402.8 L251.8,403.0 L252.1,403.2 L252.4,403.6 L252.6,403.9 L252.9,404.3 L253.2,404.7 L253.4,405.1 L253.7,405.5 L254.0,405.9 L254.2,406.2 L254.4,406.6 L254.7,407.0 L255.0,407.4 L255.2,407.7 L255.5,408.0 L255.8,408.3 L256.1,408.6 L256.4,408.8 L256.7,409.0 L257.1,409.2 L257.4,409.4 L257.8,409.5 L258.2,409.6 L258.6,409.6 L259.0,409.6 L259.4,409.6 L259.8,409.6 L260.2,409.6 L260.6,409.5 L261.0,409.4 L261.4,409.3 L261.8,409.1 L262.2,409.0 L262.6,408.8 L263.0,408.7 L263.4,408.5 L263.9,408.3 L264.3,408.2 L264.7,408.0 L265.1,407.9 L265.5,407.7 L265.9,407.6 L266.3,407.5 L266.7,407.4 L267.1,407.3 L267.5,407.2 L267.9,407.1 L268.3,407.0 L268.8,406.9 L269.2,406.9 L269.6,406.8 L270.1,406.8 L270.6,406.7 L271.0,406.7 L271.5,406.7 L272.0,406.7 L272.5,406.7 L272.9,406.7 L273.3,406.8 L273.8,406.8 L274.2,406.9 L274.5,407.0 L274.9,407.1 L275.2,407.2 L275.5,407.3 L275.8,407.5 L276.1,407.6 L276.4,407.8 L276.7,408.0 L277.1,408.3 L277.4,408.6 L277.7,408.8 L278.0,409.1 L278.3,409.4 L278.7,409.8 L279.0,410.1 L279.3,410.4 L279.6,410.6 L280.0,410.9 L280.3,411.1 L280.7,411.3 L281.1,411.5 L281.5,411.6 L282.0,411.6 L282.4,411.7 L282.9,411.7 L283.4,411.7 L283.9,411.7 L284.4,411.7 L284.9,411.7 L285.3,411.8 L285.7,411.8 L286.1,411.9 L286.4,412.0 L286.7,412.1 L287.0,412.3 L287.2,412.5 L287.5,412.7 L287.7,412.9 L287.9,413.2 L288.2,413.5 L288.4,413.7 L288.7,414.0 L288.9,414.3 L289.2,414.6 L289.4,414.9 L289.7,415.1 L289.9,415.4 L290.2,415.6 L290.5,415.8 L290.7,415.9 L291.0,416.0 L291.3,416.1 L291.6,416.1 L291.9,416.0 L292.2,416.0 L292.5,415.8 L292.8,415.7 L293.0,415.5 L293.3,415.3 L293.5,415.0 L293.8,414.7 L294.0,414.4 L294.3,414.1 L294.5,413.7 L294.7,413.4 L295.0,413.0 L295.3,412.6 L295.5,412.3 L295.8,411.9 L296.1,411.5 L296.4,411.2 L296.7,410.9 L297.0,410.6 L297.3,410.3 L297.6,410.0 L297.9,409.8 L298.2,409.7 L298.6,409.5 L298.9,409.5 L299.3,409.4 L299.6,409.5 L300.0,409.6 L300.3,409.7 L300.7,409.8 L301.1,410.0 L301.5,410.2 L301.9,410.5 L302.2,410.8 L302.6,411.1 L303.0,411.4 L303.4,411.8 L303.8,412.1 L304.2,412.5 L304.6,412.8 L305.1,413.2 L305.5,413.5 L305.9,413.8 L306.3,414.1 L306.7,414.3 L307.1,414.5 L307.5,414.6 L307.9,414.7 L308.3,414.8 L308.7,414.8 L309.0,414.7 L309.4,414.6 L309.8,414.4 L310.2,414.2 L310.5,414.0 L310.9,413.7 L311.2,413.4 L311.6,413.1 L311.9,412.8 L312.2,412.4 L312.5,412.1 L312.8,411.7 L313.1,411.3 L313.4,410.9 L313.7,410.6 L314.0,410.2 L314.3,409.8 L314.6,409.4 L314.9,409.1 L315.2,408.7 L315.5,408.4 L315.8,408.1 L316.0,407.8 L316.3,407.6 L316.6,407.4 L316.9,407.3 L317.1,407.2 L317.4,407.2 L317.6,407.2 L317.9,407.3 L318.1,407.5 L318.3,407.7 L318.5,408.0 L318.7,408.3 L318.9,408.6 L319.1,409.0 L319.3,409.4 L319.4,409.8 L319.6,410.3 L319.7,410.7 L319.9,411.2 L320.0,411.7 L320.2,412.2 L320.3,412.7 L320.4,413.3 L320.5,413.8 L320.7,414.4 L320.8,415.0 L320.9,415.5 L321.0,416.1 L321.2,416.8 L321.3,417.4 L321.4,418.0 L321.6,418.6 L321.7,419.3 L321.8,419.9 L321.9,420.6 L322.0,421.3 L322.2,421.9 L322.3,422.6 L322.4,423.3 L322.5,424.0 L322.7,424.7 L322.8,425.4 L322.9,426.1 L323.0,426.8 L323.1,427.5 L323.3,428.2 L323.4,428.9 L323.5,429.6 L323.7,430.3 L323.8,431.0 L323.9,431.7 L324.0,432.4 L324.2,433.1 L324.3,433.8 L324.4,434.5 L324.6,435.2 L324.7,435.9 L324.8,436.5 L324.9,437.2 L325.1,437.9 L325.2,438.5 L325.3,439.2 L325.5,439.8 L325.6,440.4 L325.7,441.0 L325.9,441.7 L326.0,442.3 L326.1,442.8 L326.2,443.4 L326.3,444.0 L326.5,444.5 L326.6,445.1 L326.7,445.6 L326.9,446.1 L327.0,446.6 L327.1,447.1 L327.3,447.6 L327.4,448.0 L327.6,448.4 L327.8,448.9 L328.0,449.2 L328.3,449.6 L328.6,449.9 L328.8,450.2 L329.1,450.4 L329.3,450.5 L329.6,450.6 L329.7,450.6 L329.9,450.5 L330.0,450.3 L330.2,450.0 L330.3,449.7 L330.4,449.3 L330.6,448.9 L330.7,448.4 L330.8,447.9 L330.8,447.4 L330.9,446.8 L331.0,446.2 L331.0,445.6 L331.1,445.0 L331.2,444.3 L331.2,443.7 L331.2,443.0 L331.3,442.4 L331.3,441.7 L331.4,441.0 L331.4,440.3 L331.5,439.6 L331.5,438.9 L331.5,438.1 L331.6,437.4 L331.6,436.7 L331.6,436.0 L331.7,435.2 L331.7,434.5 L331.8,433.7 L331.8,433.0 L331.8,432.3 L331.9,431.5 L331.9,430.8 L331.9,430.0 L332.0,429.3 L332.0,428.5 L332.1,427.8 L332.1,427.0 L332.1,426.3 L332.2,425.5 L332.2,424.7 L332.2,424.0 L332.3,423.2 L332.3,422.4 L332.3,421.6 L332.4,420.8 L332.4,420.0 L332.4,419.2 L332.5,418.4 L332.5,417.6 L332.5,416.7 L332.6,415.9 L332.6,415.1 L332.6,414.2 L332.7,413.4 L332.7,412.5 L332.7,411.6 L332.8,410.8 L332.8,409.9 L332.8,409.0 L332.9,408.1 L332.9,407.2 L332.9,406.3 L333.0,405.4 L333.0,404.5 L333.0,403.6 L333.0,402.6 L333.1,401.7 L333.1,400.8 L333.1,399.8 L333.1,398.9 L333.1,397.9 L333.2,397.0 L333.2,396.0 L333.2,395.1 L333.2,394.1 L333.2,393.1 L333.2,392.2 L333.2,391.2 L333.2,390.3 L333.2,389.3 L333.3,388.4 L333.3,387.4 L333.3,386.5 L333.3,385.5 L333.3,384.6 L333.3,383.7 L333.3,382.8 L333.3,381.9 L333.3,381.0 L333.4,380.1 L333.4,379.3 L333.4,378.4 L333.4,377.6 L333.4,376.7 L333.4,375.9 L333.5,375.1 L333.5,374.4 L333.5,373.6 L333.5,372.8 L333.6,372.0 L333.6,371.3 L333.6,370.6 L333.6,369.8 L333.7,369.1 L333.7,368.3 L333.7,367.6 L333.7,366.9 L333.8,366.1 L333.8,365.4 L333.8,364.7 L333.9,363.9 L333.9,363.2 L333.9,362.4 L333.9,361.6 L334.0,360.9 L334.0,360.1 L334.0,359.3 L334.1,358.5 L334.1,357.8 L334.1,357.0 L334.2,356.2 L334.2,355.4 L334.2,354.6 L334.3,353.9 L334.3,353.1 L334.3,352.3 L334.4,351.6 L334.4,350.8 L334.5,350.1 L334.5,349.4 L334.6,348.7 L334.6,348.0 L334.6,347.3 L334.7,346.6 L334.7,345.9 L334.8,345.3 L334.8,344.6 L334.9,344.0 L334.9,343.3 L335.0,342.7 L335.1,342.0 L335.1,341.4 L335.2,340.7 L335.2,340.1 L335.3,339.4 L335.4,338.7 L335.5,338.0 L335.5,337.2 L335.6,336.5 L335.7,335.7 L335.8,334.9 L335.9,334.1 L336.1,333.3 L336.2,332.5 L336.4,331.7 L336.5,331.0 L336.7,330.2 L336.9,329.6 L337.1,328.9 L337.2,328.4 L337.4,327.8 L337.6,327.4 L337.7,327.1 L337.9,326.9 L338.0,326.7 L338.2,326.7 L338.3,326.8 L338.4,327.0 L338.6,327.3 L338.7,327.7 L338.9,328.1 L339.0,328.7 L339.1,329.2 L339.2,329.9 L339.3,330.5 L339.4,331.2 L339.5,332.0 L339.6,332.7 L339.6,333.4 L339.7,334.2 L339.7,334.9 L339.8,335.6 L339.8,336.3 L339.9,337.1 L339.9,337.8 L339.9,338.6 L340.0,339.3 L340.0,340.0 L340.0,340.8 L340.1,341.6 L340.1,342.3 L340.1,343.1 L340.2,343.9 L340.2,344.7 L340.2,345.5 L340.2,346.3 L340.3,347.1 L340.3,347.9 L340.3,348.8 L340.4,349.6 L340.4,350.5 L340.4,351.4 L340.4,352.2 L340.5,353.1 L340.5,354.0 L340.5,354.9 L340.6,355.8 L340.6,356.8 L340.6,357.7 L340.6,358.6 L340.7,359.5 L340.7,360.4 L340.7,361.3 L340.7,362.3 L340.8,363.2 L340.8,364.1 L340.8,365.0 L340.8,365.9 L340.9,366.8 L340.9,367.7 L340.9,368.5 L340.9,369.4 L340.9,370.3 L341.0,371.1 L341.0,372.0 L341.0,372.8 L341.0,373.6 L341.1,374.4 L341.1,375.3 L341.1,376.1 L341.1,376.9 L341.2,377.6 L341.2,378.4 L341.2,379.2 L341.2,380.0 L341.2,380.7 L341.3,381.5 L341.3,382.2 L341.3,383.0 L341.3,383.7 L341.3,384.5 L341.3,385.2 L341.3,385.9 L341.3,386.7 L341.3,387.4 L341.3,388.1 L341.3,388.9 L341.3,389.6 L341.3,390.3 L341.3,391.1 L341.3,391.8 L341.3,392.5 L341.3,393.3 L341.3,394.1 L341.3,394.8 L341.3,395.6 L341.3,396.4 L341.3,397.2 L341.3,398.0 L341.3,398.8 L341.3,399.7 L341.3,400.5 L341.3,401.4 L341.3,402.3 L341.3,403.2 L341.3,404.1 L341.3,405.0 L341.3,405.9 L341.3,406.8 L341.3,407.7 L341.3,408.6 L341.3,409.6 L341.3,410.5 L341.3,411.4 L341.3,412.3 L341.3,413.2 L341.4,414.1 L341.4,415.0 L341.4,415.8 L341.4,416.7 L341.4,417.5 L341.4,418.3 L341.4,419.1 L341.4,419.8 L341.4,420.6 L341.4,421.3 L341.4,422.0 L341.4,422.7 L341.5,423.3 L341.5,423.9 L341.5,424.6 L341.5,425.2 L341.5,425.8 L341.6,426.3 L341.6,426.9 L341.6,427.5 L341.6,428.0 L341.7,428.6 L341.7,429.2 L341.7,429.7" fill="none" stroke="#1488b0" stroke-width="1.75" stroke-linejoin="round"/>
<line x1="103.1" y1="11.9" x2="103.1" y2="496.4" stroke="#b4b4b4" stroke-width="1.8" stroke-dasharray="4.9 5.56" stroke-dashoffset="1.46"/>
<line x1="113.0" y1="8.1" x2="113.0" y2="492" stroke="#c0692a" stroke-width="1.8" stroke-dasharray="5.0 5.50" stroke-dashoffset="2.3"/>
<line x1="122.6" y1="29.07" x2="122.6" y2="492.5" stroke="#6b8e23" stroke-width="1.8" stroke-dasharray="5.2 5.28" stroke-dashoffset="0"/>
<line x1="185.7" y1="20" x2="185.7" y2="472.8" stroke="#bf1490" stroke-width="1.9" stroke-dasharray="6.9 7.02" stroke-dashoffset="0"/>
<line x1="204.2" y1="75.5" x2="204.2" y2="471.2" stroke="#8535df" stroke-width="1.7" stroke-dasharray="6.95 6.95" stroke-dashoffset="1.4"/>
<text x="201.4" y="542.4" fill="#000" font-size="14" text-anchor="middle" >time [s]</text>
<text transform="translate(18.1,84.7) rotate(-90)" font-size="14" text-anchor="middle">amplitude [mV]</text>
<text transform="translate(18.4,242.6) rotate(-90)" font-size="14" text-anchor="middle">angular velocity [°/s]</text>
<text transform="translate(23.3,413.5) rotate(-90)" font-size="14" text-anchor="middle">angular velocity [°/s]</text>
<text x="358.6" y="69.3" fill="#000" font-size="13.9" text-anchor="start" >ECG</text>
<text x="353" y="238.3" fill="#000" font-size="13.9" text-anchor="start" >GCG</text>
<text x="353" y="254.8" fill="#000" font-size="13.9" text-anchor="start" >x-axis</text>
<text x="354" y="434.2" fill="#000" font-size="13.9" text-anchor="start" >GCG</text>
<text x="354" y="450.9" fill="#000" font-size="13.9" text-anchor="start" >y-axis</text>
<line x1="141.0" y1="13.0" x2="125.1" y2="10.8" stroke="#4f4ad6" stroke-width="1.6"/><polygon points="115.0,9.4 127.3,6.6 125.1,10.8 126.1,15.5" fill="#4f4ad6"/>
<text x="142.6" y="18" fill="#4f4ad6" font-size="11.5" text-anchor="start" >R</text>
<line x1="148.2" y1="66.6" x2="133.2" y2="64.7" stroke="#008000" stroke-width="1.6"/><polygon points="123.1,63.5 135.4,60.5 133.2,64.7 134.3,69.4" fill="#008000"/>
<text x="149.1" y="70.9" fill="#008000" font-size="11.5" text-anchor="start" >AO</text>
<line x1="86.5" y1="83.4" x2="101.6" y2="83.1" stroke="#008000" stroke-width="1.6"/><polygon points="111.7,82.9 100.0,87.6 101.6,83.1 99.8,78.6" fill="#008000"/>
<text x="67.8" y="87.5" fill="#008000" font-size="11.5" text-anchor="start" >MC</text>
<line x1="80.2" y1="135.9" x2="91.2" y2="134.2" stroke="#4f4ad6" stroke-width="1.6"/><polygon points="101.2,132.7 90.2,138.9 91.2,134.2 88.9,130.0" fill="#4f4ad6"/>
<text x="69.5" y="140.3" fill="#4f4ad6" font-size="11.5" text-anchor="start" >Q</text>
<line x1="211.0" y1="25.4" x2="196.6" y2="25.0" stroke="#008000" stroke-width="1.6"/><polygon points="186.5,24.8 198.4,20.6 196.6,25.0 198.2,29.6" fill="#008000"/>
<text x="213.2" y="29.7" fill="#008000" font-size="11.5" text-anchor="start" >AC</text>
<line x1="232.0" y1="80.2" x2="214.9" y2="80.2" stroke="#008000" stroke-width="1.6"/><polygon points="204.8,80.2 216.6,75.7 214.9,80.2 216.6,84.7" fill="#008000"/>
<text x="233.2" y="83.8" fill="#008000" font-size="11.5" text-anchor="start" >MO</text>
<line x1="83.5" y1="177.7" x2="99.4" y2="177.7" stroke="#000" stroke-width="1.9"/><polygon points="110.4,177.7 97.6,182.8 99.4,177.7 97.6,172.6" fill="#000"/>
<text x="67.8" y="183.9" fill="#000" font-size="13.7">g<tspan font-size="8.2" dy="3.1">I</tspan></text>
<line x1="164.3" y1="198.8" x2="174.4" y2="208.5" stroke="#000" stroke-width="1.9"/><polygon points="182.4,216.1 169.6,210.9 174.4,208.5 176.7,203.6" fill="#000"/>
<text x="149.2" y="193.6" fill="#000" font-size="13.7">g<tspan font-size="8.2" dy="3.1">K</tspan></text>
<line x1="226.9" y1="243.7" x2="216.5" y2="242.7" stroke="#000" stroke-width="1.9"/><polygon points="205.5,241.7 218.7,237.8 216.5,242.7 217.8,248.0" fill="#000"/>
<text x="230.0" y="248.9" fill="#000" font-size="13.7">g<tspan font-size="8.2" dy="3.1">L</tspan></text>
<line x1="154.4" y1="332.6" x2="136.4" y2="328.3" stroke="#000" stroke-width="1.9"/><polygon points="125.7,325.7 139.3,323.7 136.4,328.3 137.0,333.7" fill="#000"/>
<text x="158.8" y="337" fill="#000" font-size="13.7">g<tspan font-size="8.2" dy="3.1">J</tspan></text>
<line x1="85.9" y1="449.2" x2="101.5" y2="449.1" stroke="#000" stroke-width="1.9"/><polygon points="112.5,449.0 99.7,454.2 101.5,449.1 99.7,444.0" fill="#000"/>
<text x="72.5" y="452" fill="#000" font-size="13.7">g<tspan font-size="8.2" dy="3.1">I</tspan></text>
<line x1="161.9" y1="435.5" x2="174.2" y2="429.6" stroke="#000" stroke-width="1.9"/><polygon points="184.1,424.9 174.7,435.0 174.2,429.6 170.4,425.8" fill="#000"/>
<text x="145.7" y="438.9" fill="#000" font-size="13.7">g<tspan font-size="8.2" dy="3.1">K</tspan></text>
<line x1="221.5" y1="451.0" x2="215.0" y2="441.6" stroke="#000" stroke-width="1.9"/><polygon points="208.7,432.6 220.2,440.2 215.0,441.6 211.8,446.0" fill="#000"/>
<text x="224.1" y="460.1" fill="#000" font-size="13.7">g<tspan font-size="8.2" dy="3.1">L</tspan></text>
<polygon points="104.3,309.8 111.3,307.6 110.6,309.8 111.3,312.1" fill="#e214f8"/><line x1="110.6" y1="309.8" x2="115.5" y2="309.8" stroke="#e214f8" stroke-width="1.8"/><polygon points="121.8,309.8 114.8,312.1 115.5,309.8 114.8,307.6" fill="#e214f8"/>
<text x="78.6" y="311.7" fill="#1a8a6a" font-size="11.5" text-anchor="start" >PEP</text>
<polygon points="124.4,316.6 131.4,314.4 130.7,316.6 131.4,318.9" fill="#e214f8"/><line x1="130.7" y1="316.6" x2="178.2" y2="316.6" stroke="#e214f8" stroke-width="1.8"/><polygon points="184.5,316.6 177.5,318.9 178.2,316.6 177.5,314.4" fill="#e214f8"/>
<text x="154" y="310" fill="#1a8a6a" font-size="11.5" text-anchor="middle" >LVET</text>
<polygon points="104.8,377.8 111.8,375.6 111.1,377.8 111.8,380.1" fill="#e214f8"/><line x1="111.1" y1="377.8" x2="178.0" y2="377.8" stroke="#e214f8" stroke-width="1.8"/><polygon points="184.3,377.8 177.3,380.1 178.0,377.8 177.3,375.6" fill="#e214f8"/>
<text x="148.3" y="372.1" fill="#1a8a6a" font-size="11.5" text-anchor="middle" >QS2</text>
<polygon points="114.2,482.5 121.2,480.2 120.5,482.5 121.2,484.8" fill="#e214f8"/><line x1="120.5" y1="482.5" x2="123.3" y2="482.5" stroke="#e214f8" stroke-width="1.8"/><polygon points="129.6,482.5 122.6,484.8 123.3,482.5 122.6,480.2" fill="#e214f8"/>
<text x="113.2" y="499.6" fill="#1a8a6a" font-size="11.7" text-anchor="start" >IVCT</text>
<polygon points="187.5,469.7 194.5,467.4 193.8,469.7 194.5,471.9" fill="#e214f8"/><line x1="193.8" y1="469.7" x2="196.3" y2="469.7" stroke="#e214f8" stroke-width="1.8"/><polygon points="202.6,469.7 195.6,471.9 196.3,469.7 195.6,467.4" fill="#e214f8"/>
<text x="183.2" y="488.7" fill="#1a8a6a" font-size="11.7" text-anchor="start" >IVRT</text>
</svg>
</body></html>
